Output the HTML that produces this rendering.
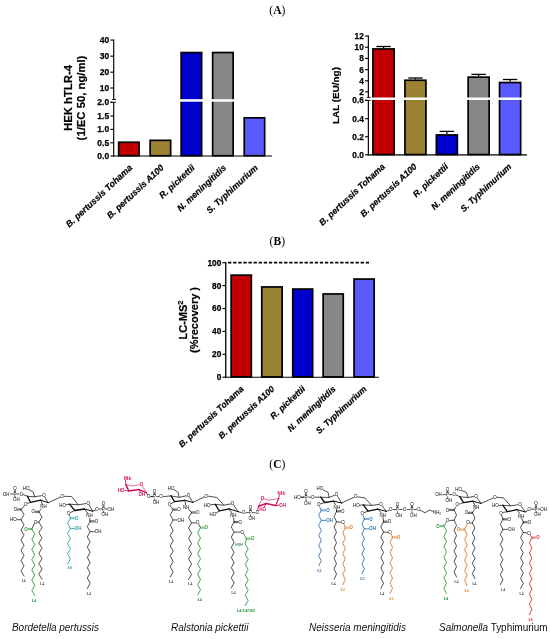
<!DOCTYPE html>
<html lang="en"><head><meta charset="utf-8"><title>Figure</title>
<style>html,body{margin:0;padding:0;background:#fff}body{width:550px;height:639px;overflow:hidden}svg{display:block}</style>
</head><body>
<svg width="550" height="639" viewBox="0 0 550 639">
<rect width="550" height="639" fill="#fff"/>
<text x="277.3" y="13.7" font-family='"Liberation Serif", serif' font-size="11.5" text-anchor="middle" fill="#000">(<tspan font-weight="bold">A</tspan>)</text>
<text x="277.3" y="244.8" font-family='"Liberation Serif", serif' font-size="11.5" text-anchor="middle" fill="#000">(<tspan font-weight="bold">B</tspan>)</text>
<text x="277.3" y="467.5" font-family='"Liberation Serif", serif' font-size="11.5" text-anchor="middle" fill="#000">(<tspan font-weight="bold">C</tspan>)</text>
<g id="chartA1">
<rect x="118.65" y="142.25" width="20.4" height="13.47" fill="#c20004" stroke="#000" stroke-width="1.7"/>
<rect x="150.15" y="140.35" width="20.5" height="15.38" fill="#9a8232" stroke="#000" stroke-width="1.7"/>
<rect x="181.15" y="52.55" width="20.5" height="103.17" fill="#0000cc" stroke="#000" stroke-width="1.7"/>
<rect x="212.65" y="52.55" width="20.5" height="103.17" fill="#878787" stroke="#000" stroke-width="1.7"/>
<rect x="244.25" y="117.85" width="20.4" height="37.88" fill="#5a5aff" stroke="#000" stroke-width="1.7"/>
<rect x="114.7" y="99.2" width="158.3" height="2.5" fill="#fff"/>
<line x1="113.7" y1="39.52" x2="113.7" y2="156.57" stroke="#000" stroke-width="1.15" />
<line x1="113.12" y1="156" x2="272" y2="156" stroke="#000" stroke-width="1.15" />
<line x1="110.4" y1="40.1" x2="113.7" y2="40.1" stroke="#000" stroke-width="1.15" />
<text x="109.2" y="43.16" font-family='"Liberation Sans", sans-serif' font-size="8.5" font-weight="bold" font-style="normal" text-anchor="end" fill="#000" stroke="#000" stroke-width="0.25">40</text>
<line x1="110.4" y1="56.2" x2="113.7" y2="56.2" stroke="#000" stroke-width="1.15" />
<text x="109.2" y="59.26" font-family='"Liberation Sans", sans-serif' font-size="8.5" font-weight="bold" font-style="normal" text-anchor="end" fill="#000" stroke="#000" stroke-width="0.25">30</text>
<line x1="110.4" y1="72.2" x2="113.7" y2="72.2" stroke="#000" stroke-width="1.15" />
<text x="109.2" y="75.26" font-family='"Liberation Sans", sans-serif' font-size="8.5" font-weight="bold" font-style="normal" text-anchor="end" fill="#000" stroke="#000" stroke-width="0.25">20</text>
<line x1="110.4" y1="88" x2="113.7" y2="88" stroke="#000" stroke-width="1.15" />
<text x="109.2" y="91.06" font-family='"Liberation Sans", sans-serif' font-size="8.5" font-weight="bold" font-style="normal" text-anchor="end" fill="#000" stroke="#000" stroke-width="0.25">10</text>
<line x1="110.4" y1="102.25" x2="113.7" y2="102.25" stroke="#000" stroke-width="1.15" />
<text x="109.2" y="105.31" font-family='"Liberation Sans", sans-serif' font-size="8.5" font-weight="bold" font-style="normal" text-anchor="end" fill="#000" stroke="#000" stroke-width="0.25">2.0</text>
<line x1="110.4" y1="116" x2="113.7" y2="116" stroke="#000" stroke-width="1.15" />
<text x="109.2" y="119.06" font-family='"Liberation Sans", sans-serif' font-size="8.5" font-weight="bold" font-style="normal" text-anchor="end" fill="#000" stroke="#000" stroke-width="0.25">1.5</text>
<line x1="110.4" y1="129.4" x2="113.7" y2="129.4" stroke="#000" stroke-width="1.15" />
<text x="109.2" y="132.46" font-family='"Liberation Sans", sans-serif' font-size="8.5" font-weight="bold" font-style="normal" text-anchor="end" fill="#000" stroke="#000" stroke-width="0.25">1.0</text>
<line x1="110.4" y1="142.8" x2="113.7" y2="142.8" stroke="#000" stroke-width="1.15" />
<text x="109.2" y="145.86" font-family='"Liberation Sans", sans-serif' font-size="8.5" font-weight="bold" font-style="normal" text-anchor="end" fill="#000" stroke="#000" stroke-width="0.25">0.5</text>
<line x1="110.4" y1="156" x2="113.7" y2="156" stroke="#000" stroke-width="1.15" />
<text x="109.2" y="159.06" font-family='"Liberation Sans", sans-serif' font-size="8.5" font-weight="bold" font-style="normal" text-anchor="end" fill="#000" stroke="#000" stroke-width="0.25">0.0</text>
<rect x="112.2" y="99.5" width="3" height="2.75" fill="#fff"/>
<line x1="112.1" y1="99.5" x2="116" y2="99.5" stroke="#000" stroke-width="0.9" />
<line x1="110.5" y1="102.25" x2="116" y2="102.25" stroke="#000" stroke-width="0.9" />
<text transform="translate(71.5 98) rotate(-90)" font-family='"Liberation Sans", sans-serif' font-size="11.3" font-weight="bold" text-anchor="middle" fill="#000" stroke="#000" stroke-width="0.2">HEK hTLR-4</text>
<text transform="translate(85.3 98) rotate(-90)" font-family='"Liberation Sans", sans-serif' font-size="11.3" font-weight="bold" text-anchor="middle" fill="#000" stroke="#000" stroke-width="0.2">(1/EC 50, ng/ml)</text>
<text transform="translate(132.85 168.5) rotate(-43)" font-family='"Liberation Sans", sans-serif' font-size="8.9" font-weight="bold" font-style="italic" text-anchor="end" fill="#000" stroke="#000" stroke-width="0.2">B. pertussis Tohama</text>
<text transform="translate(164.4 168.5) rotate(-43)" font-family='"Liberation Sans", sans-serif' font-size="8.9" font-weight="bold" font-style="italic" text-anchor="end" fill="#000" stroke="#000" stroke-width="0.2">B. pertussis A100</text>
<text transform="translate(195.4 168.5) rotate(-43)" font-family='"Liberation Sans", sans-serif' font-size="8.9" font-weight="bold" font-style="italic" text-anchor="end" fill="#000" stroke="#000" stroke-width="0.2">R. pickettii</text>
<text transform="translate(226.9 168.5) rotate(-43)" font-family='"Liberation Sans", sans-serif' font-size="8.9" font-weight="bold" font-style="italic" text-anchor="end" fill="#000" stroke="#000" stroke-width="0.2">N. meningitidis</text>
<text transform="translate(258.45 168.5) rotate(-43)" font-family='"Liberation Sans", sans-serif' font-size="8.9" font-weight="bold" font-style="italic" text-anchor="end" fill="#000" stroke="#000" stroke-width="0.2">S. Typhimurium</text>
</g>
<g id="chartA2">
<line x1="383.55" y1="46.5" x2="383.55" y2="48.1" stroke="#000" stroke-width="1.2" />
<line x1="376.35" y1="46.5" x2="390.75" y2="46.5" stroke="#000" stroke-width="1.3" />
<rect x="372.95" y="48.95" width="21.2" height="105.58" fill="#c20004" stroke="#000" stroke-width="1.7"/>
<line x1="415.45" y1="78" x2="415.45" y2="79.4" stroke="#000" stroke-width="1.2" />
<line x1="408.25" y1="78" x2="422.65" y2="78" stroke="#000" stroke-width="1.3" />
<rect x="404.95" y="80.25" width="21" height="74.28" fill="#9a8232" stroke="#000" stroke-width="1.7"/>
<line x1="446.85" y1="131.4" x2="446.85" y2="134.1" stroke="#000" stroke-width="1.2" />
<line x1="439.65" y1="131.4" x2="454.05" y2="131.4" stroke="#000" stroke-width="1.3" />
<rect x="436.35" y="134.95" width="21" height="19.58" fill="#0000cc" stroke="#000" stroke-width="1.7"/>
<line x1="478.65" y1="74.4" x2="478.65" y2="76.3" stroke="#000" stroke-width="1.2" />
<line x1="471.45" y1="74.4" x2="485.85" y2="74.4" stroke="#000" stroke-width="1.3" />
<rect x="468.15" y="77.15" width="21" height="77.38" fill="#878787" stroke="#000" stroke-width="1.7"/>
<line x1="510.1" y1="79.5" x2="510.1" y2="81.7" stroke="#000" stroke-width="1.2" />
<line x1="502.9" y1="79.5" x2="517.3" y2="79.5" stroke="#000" stroke-width="1.3" />
<rect x="499.55" y="82.55" width="21.1" height="71.98" fill="#5a5aff" stroke="#000" stroke-width="1.7"/>
<rect x="369.35" y="97.5" width="158.65" height="2.45" fill="#fff"/>
<line x1="368.35" y1="35.47" x2="368.35" y2="155.38" stroke="#000" stroke-width="1.15" />
<line x1="367.78" y1="154.8" x2="527" y2="154.8" stroke="#000" stroke-width="1.15" />
<line x1="365.05" y1="36.05" x2="368.35" y2="36.05" stroke="#000" stroke-width="1.15" />
<text x="363.85" y="39.04" font-family='"Liberation Sans", sans-serif' font-size="8.3" font-weight="bold" font-style="normal" text-anchor="end" fill="#000" stroke="#000" stroke-width="0.25">12</text>
<line x1="365.05" y1="47.25" x2="368.35" y2="47.25" stroke="#000" stroke-width="1.15" />
<text x="363.85" y="50.24" font-family='"Liberation Sans", sans-serif' font-size="8.3" font-weight="bold" font-style="normal" text-anchor="end" fill="#000" stroke="#000" stroke-width="0.25">10</text>
<line x1="365.05" y1="58.45" x2="368.35" y2="58.45" stroke="#000" stroke-width="1.15" />
<text x="363.85" y="61.44" font-family='"Liberation Sans", sans-serif' font-size="8.3" font-weight="bold" font-style="normal" text-anchor="end" fill="#000" stroke="#000" stroke-width="0.25">8</text>
<line x1="365.05" y1="69.65" x2="368.35" y2="69.65" stroke="#000" stroke-width="1.15" />
<text x="363.85" y="72.64" font-family='"Liberation Sans", sans-serif' font-size="8.3" font-weight="bold" font-style="normal" text-anchor="end" fill="#000" stroke="#000" stroke-width="0.25">6</text>
<line x1="365.05" y1="80.8" x2="368.35" y2="80.8" stroke="#000" stroke-width="1.15" />
<text x="363.85" y="83.79" font-family='"Liberation Sans", sans-serif' font-size="8.3" font-weight="bold" font-style="normal" text-anchor="end" fill="#000" stroke="#000" stroke-width="0.25">4</text>
<line x1="365.05" y1="91.85" x2="368.35" y2="91.85" stroke="#000" stroke-width="1.15" />
<text x="363.85" y="94.84" font-family='"Liberation Sans", sans-serif' font-size="8.3" font-weight="bold" font-style="normal" text-anchor="end" fill="#000" stroke="#000" stroke-width="0.25">2</text>
<line x1="365.05" y1="100.3" x2="368.35" y2="100.3" stroke="#000" stroke-width="1.15" />
<text x="363.85" y="103.29" font-family='"Liberation Sans", sans-serif' font-size="8.3" font-weight="bold" font-style="normal" text-anchor="end" fill="#000" stroke="#000" stroke-width="0.25">0.6</text>
<line x1="365.05" y1="118.7" x2="368.35" y2="118.7" stroke="#000" stroke-width="1.15" />
<text x="363.85" y="121.69" font-family='"Liberation Sans", sans-serif' font-size="8.3" font-weight="bold" font-style="normal" text-anchor="end" fill="#000" stroke="#000" stroke-width="0.25">0.4</text>
<line x1="365.05" y1="136.8" x2="368.35" y2="136.8" stroke="#000" stroke-width="1.15" />
<text x="363.85" y="139.79" font-family='"Liberation Sans", sans-serif' font-size="8.3" font-weight="bold" font-style="normal" text-anchor="end" fill="#000" stroke="#000" stroke-width="0.25">0.2</text>
<line x1="365.05" y1="154.8" x2="368.35" y2="154.8" stroke="#000" stroke-width="1.15" />
<text x="363.85" y="157.79" font-family='"Liberation Sans", sans-serif' font-size="8.3" font-weight="bold" font-style="normal" text-anchor="end" fill="#000" stroke="#000" stroke-width="0.25">0.0</text>
<rect x="366.85" y="97.4" width="3" height="2.9" fill="#fff"/>
<line x1="366.75" y1="97.4" x2="370.65" y2="97.4" stroke="#000" stroke-width="0.9" />
<line x1="365.15" y1="100.3" x2="370.65" y2="100.3" stroke="#000" stroke-width="0.9" />
<text transform="translate(339.3 95.5) rotate(-90)" font-family='"Liberation Sans", sans-serif' font-size="9.9" font-weight="bold" text-anchor="middle" fill="#000" stroke="#000" stroke-width="0.2">LAL (EU/ng)</text>
<text transform="translate(385.55 167.3) rotate(-43)" font-family='"Liberation Sans", sans-serif' font-size="8.8" font-weight="bold" font-style="italic" text-anchor="end" fill="#000" stroke="#000" stroke-width="0.2">B. pertussis Tohama</text>
<text transform="translate(417.45 167.3) rotate(-43)" font-family='"Liberation Sans", sans-serif' font-size="8.8" font-weight="bold" font-style="italic" text-anchor="end" fill="#000" stroke="#000" stroke-width="0.2">B. pertussis A100</text>
<text transform="translate(448.85 167.3) rotate(-43)" font-family='"Liberation Sans", sans-serif' font-size="8.8" font-weight="bold" font-style="italic" text-anchor="end" fill="#000" stroke="#000" stroke-width="0.2">R. pickettii</text>
<text transform="translate(480.65 167.3) rotate(-43)" font-family='"Liberation Sans", sans-serif' font-size="8.8" font-weight="bold" font-style="italic" text-anchor="end" fill="#000" stroke="#000" stroke-width="0.2">N. meningitidis</text>
<text transform="translate(512.1 167.3) rotate(-43)" font-family='"Liberation Sans", sans-serif' font-size="8.8" font-weight="bold" font-style="italic" text-anchor="end" fill="#000" stroke="#000" stroke-width="0.2">S. Typhimurium</text>
</g>
<g id="chartB">
<rect x="231.15" y="275.15" width="20.2" height="101.77" fill="#c20004" stroke="#000" stroke-width="1.7"/>
<rect x="261.75" y="286.95" width="20.4" height="89.97" fill="#9a8232" stroke="#000" stroke-width="1.7"/>
<rect x="292.75" y="289.05" width="19.9" height="87.87" fill="#0000cc" stroke="#000" stroke-width="1.7"/>
<rect x="323.15" y="293.95" width="20.1" height="82.97" fill="#878787" stroke="#000" stroke-width="1.7"/>
<rect x="354.05" y="279.05" width="20.1" height="97.87" fill="#5a5aff" stroke="#000" stroke-width="1.7"/>
<line x1="225.75" y1="262.12" x2="225.75" y2="377.77" stroke="#000" stroke-width="1.3" />
<line x1="225.18" y1="377.2" x2="379" y2="377.2" stroke="#000" stroke-width="1.15" />
<line x1="222.45" y1="262.7" x2="225.75" y2="262.7" stroke="#000" stroke-width="1.15" />
<text x="221.25" y="265.69" font-family='"Liberation Sans", sans-serif' font-size="8.3" font-weight="bold" font-style="normal" text-anchor="end" fill="#000" stroke="#000" stroke-width="0.25">100</text>
<line x1="222.45" y1="285.6" x2="225.75" y2="285.6" stroke="#000" stroke-width="1.15" />
<text x="221.25" y="288.59" font-family='"Liberation Sans", sans-serif' font-size="8.3" font-weight="bold" font-style="normal" text-anchor="end" fill="#000" stroke="#000" stroke-width="0.25">80</text>
<line x1="222.45" y1="308.5" x2="225.75" y2="308.5" stroke="#000" stroke-width="1.15" />
<text x="221.25" y="311.49" font-family='"Liberation Sans", sans-serif' font-size="8.3" font-weight="bold" font-style="normal" text-anchor="end" fill="#000" stroke="#000" stroke-width="0.25">60</text>
<line x1="222.45" y1="331.4" x2="225.75" y2="331.4" stroke="#000" stroke-width="1.15" />
<text x="221.25" y="334.39" font-family='"Liberation Sans", sans-serif' font-size="8.3" font-weight="bold" font-style="normal" text-anchor="end" fill="#000" stroke="#000" stroke-width="0.25">40</text>
<line x1="222.45" y1="354.3" x2="225.75" y2="354.3" stroke="#000" stroke-width="1.15" />
<text x="221.25" y="357.29" font-family='"Liberation Sans", sans-serif' font-size="8.3" font-weight="bold" font-style="normal" text-anchor="end" fill="#000" stroke="#000" stroke-width="0.25">20</text>
<line x1="222.45" y1="377.2" x2="225.75" y2="377.2" stroke="#000" stroke-width="1.15" />
<text x="221.25" y="380.19" font-family='"Liberation Sans", sans-serif' font-size="8.3" font-weight="bold" font-style="normal" text-anchor="end" fill="#000" stroke="#000" stroke-width="0.25">0</text>
<line x1="228.05" y1="262.7" x2="371" y2="262.7" stroke="#000" stroke-width="1.7" stroke-dasharray="3.3 1.8"/>
<text transform="translate(186.5 320) rotate(-90)" font-family='"Liberation Sans", sans-serif' font-size="11" font-weight="bold" text-anchor="middle" fill="#000" stroke="#000" stroke-width="0.2">LC-MS<tspan font-size="7.48" dy="-3.6">2</tspan></text>
<text transform="translate(198 320) rotate(-90)" font-family='"Liberation Sans", sans-serif' font-size="11" font-weight="bold" text-anchor="middle" fill="#000" stroke="#000" stroke-width="0.2">(%recovery )</text>
<text transform="translate(244.25 389.7) rotate(-43)" font-family='"Liberation Sans", sans-serif' font-size="8.7" font-weight="bold" font-style="italic" text-anchor="end" fill="#000" stroke="#000" stroke-width="0.2">B. pertussis Tohama</text>
<text transform="translate(274.95 389.7) rotate(-43)" font-family='"Liberation Sans", sans-serif' font-size="8.7" font-weight="bold" font-style="italic" text-anchor="end" fill="#000" stroke="#000" stroke-width="0.2">B. pertussis A100</text>
<text transform="translate(305.7 389.7) rotate(-43)" font-family='"Liberation Sans", sans-serif' font-size="8.7" font-weight="bold" font-style="italic" text-anchor="end" fill="#000" stroke="#000" stroke-width="0.2">R. pickettii</text>
<text transform="translate(336.2 389.7) rotate(-43)" font-family='"Liberation Sans", sans-serif' font-size="8.7" font-weight="bold" font-style="italic" text-anchor="end" fill="#000" stroke="#000" stroke-width="0.2">N. meningitidis</text>
<text transform="translate(367.1 389.7) rotate(-43)" font-family='"Liberation Sans", sans-serif' font-size="8.7" font-weight="bold" font-style="italic" text-anchor="end" fill="#000" stroke="#000" stroke-width="0.2">S. Typhimurium</text>
</g>
<g id="structures">
<polyline points="27.4,496.3 34.6,496.8 43.9,495.3 48.1,502.7" fill="none" stroke="#0a0a0a" stroke-width="0.72" stroke-linejoin="round" stroke-linecap="round"/>
<polyline points="27.4,496.3 30.5,502.3 40.7,500.1" fill="none" stroke="#0a0a0a" stroke-width="1.3" stroke-linejoin="round" stroke-linecap="round"/>
<polyline points="40.7,500.1 48.1,502.7" fill="none" stroke="#0a0a0a" stroke-width="1" stroke-linejoin="round" stroke-linecap="round"/>
<polyline points="34.6,496.8 33.3,492.1 28.9,489.7" fill="none" stroke="#0a0a0a" stroke-width="0.72" stroke-linejoin="round" stroke-linecap="round"/>
<polyline points="10.6,494 19.2,494" fill="none" stroke="#0a0a0a" stroke-width="0.72" stroke-linejoin="round" stroke-linecap="round"/>
<polyline points="14.45,492.8 14.45,490" fill="none" stroke="#0a0a0a" stroke-width="0.65" stroke-linejoin="round" stroke-linecap="round"/>
<polyline points="15.35,492.8 15.35,490" fill="none" stroke="#0a0a0a" stroke-width="0.65" stroke-linejoin="round" stroke-linecap="round"/>
<polyline points="14.9,495.2 15.2,497.9" fill="none" stroke="#0a0a0a" stroke-width="0.72" stroke-linejoin="round" stroke-linecap="round"/>
<polyline points="23,494.4 27.4,496.3" fill="none" stroke="#0a0a0a" stroke-width="0.72" stroke-linejoin="round" stroke-linecap="round"/>
<polyline points="30.5,502.3 27.2,503.6" fill="none" stroke="#0a0a0a" stroke-width="0.72" stroke-linejoin="round" stroke-linecap="round"/>
<polyline points="24.6,505.5 21,509.5" fill="none" stroke="#0a0a0a" stroke-width="0.72" stroke-linejoin="round" stroke-linecap="round"/>
<polyline points="21,508.95 17.3,508.95" fill="none" stroke="#0a0a0a" stroke-width="0.65" stroke-linejoin="round" stroke-linecap="round"/>
<polyline points="21,510.05 17.3,510.05" fill="none" stroke="#0a0a0a" stroke-width="0.65" stroke-linejoin="round" stroke-linecap="round"/>
<polyline points="21,509.5 24,514.62 21,519.73 24,524.85 21,529.96 24,535.08 21,540.19 24,545.31 21,550.42 24,555.54 21,560.65 24,565.77 21,570.88 24,576" fill="none" stroke="#0a0a0a" stroke-width="0.72" stroke-linejoin="round" stroke-linecap="round"/>
<polyline points="21,519.73 16.6,519.73" fill="none" stroke="#0a0a0a" stroke-width="0.72" stroke-linejoin="round" stroke-linecap="round"/>
<polyline points="40.7,500.1 42.6,504.8" fill="none" stroke="#0a0a0a" stroke-width="0.72" stroke-linejoin="round" stroke-linecap="round"/>
<polyline points="42,508.3 38.8,511.8" fill="none" stroke="#0a0a0a" stroke-width="0.72" stroke-linejoin="round" stroke-linecap="round"/>
<polyline points="38.8,511.25 35.1,511.25" fill="none" stroke="#0a0a0a" stroke-width="0.65" stroke-linejoin="round" stroke-linecap="round"/>
<polyline points="38.8,512.35 35.1,512.35" fill="none" stroke="#0a0a0a" stroke-width="0.65" stroke-linejoin="round" stroke-linecap="round"/>
<polyline points="38.8,511.8 42.1,516.99 38.8,522.18 42.1,527.38 38.8,532.57 42.1,537.76 38.8,542.95 42.1,548.15 38.8,553.34 42.1,558.53 38.8,563.72 42.1,568.92 38.8,574.11 42.1,579.3" fill="none" stroke="#0a0a0a" stroke-width="0.72" stroke-linejoin="round" stroke-linecap="round"/>
<polyline points="38.8,522.18 37,522.2" fill="none" stroke="#0a0a0a" stroke-width="0.72" stroke-linejoin="round" stroke-linecap="round"/>
<polyline points="34.5,523.5 31.8,529" fill="none" stroke="#0a0a0a" stroke-width="0.72" stroke-linejoin="round" stroke-linecap="round"/>
<polyline points="31.8,528.45 27.9,528.45" fill="none" stroke="#2e9a3e" stroke-width="0.65" stroke-linejoin="round" stroke-linecap="round"/>
<polyline points="31.8,529.55 27.9,529.55" fill="none" stroke="#2e9a3e" stroke-width="0.65" stroke-linejoin="round" stroke-linecap="round"/>
<polyline points="31.8,529 34.8,534.12 31.8,539.25 34.8,544.37 31.8,549.49 34.8,554.62 31.8,559.74 34.8,564.86 31.8,569.98 34.8,575.11 31.8,580.23 34.8,585.35 31.8,590.48 34.8,595.6" fill="none" stroke="#2e9a3e" stroke-width="0.9" stroke-linejoin="round" stroke-linecap="round"/>
<polyline points="48.1,502.7 60.8,497" fill="none" stroke="#0a0a0a" stroke-width="0.72" stroke-linejoin="round" stroke-linecap="round"/>
<polyline points="63.8,496.3 71.6,496.5 78.3,504.8" fill="none" stroke="#0a0a0a" stroke-width="0.72" stroke-linejoin="round" stroke-linecap="round"/>
<polyline points="69.5,504.2 78.3,504.8 88.2,503.2 92.6,511.2" fill="none" stroke="#0a0a0a" stroke-width="0.72" stroke-linejoin="round" stroke-linecap="round"/>
<polyline points="69.5,504.2 74.8,510.5 84.4,509" fill="none" stroke="#0a0a0a" stroke-width="1.3" stroke-linejoin="round" stroke-linecap="round"/>
<polyline points="84.4,509 92.6,511.2" fill="none" stroke="#0a0a0a" stroke-width="1" stroke-linejoin="round" stroke-linecap="round"/>
<polyline points="69.5,504.2 65.5,504.8" fill="none" stroke="#0a0a0a" stroke-width="0.72" stroke-linejoin="round" stroke-linecap="round"/>
<polyline points="92.6,511.2 95.8,509.8" fill="none" stroke="#0a0a0a" stroke-width="0.72" stroke-linejoin="round" stroke-linecap="round"/>
<polyline points="99.2,509 107.8,509" fill="none" stroke="#0a0a0a" stroke-width="0.72" stroke-linejoin="round" stroke-linecap="round"/>
<polyline points="103.05,507.8 103.05,505" fill="none" stroke="#0a0a0a" stroke-width="0.65" stroke-linejoin="round" stroke-linecap="round"/>
<polyline points="103.95,507.8 103.95,505" fill="none" stroke="#0a0a0a" stroke-width="0.65" stroke-linejoin="round" stroke-linecap="round"/>
<polyline points="103.5,510.2 103.8,512.9" fill="none" stroke="#0a0a0a" stroke-width="0.72" stroke-linejoin="round" stroke-linecap="round"/>
<polyline points="74.8,510.5 70.4,512.6" fill="none" stroke="#0a0a0a" stroke-width="0.72" stroke-linejoin="round" stroke-linecap="round"/>
<polyline points="69.1,514.9 70.4,518.2" fill="none" stroke="#2a9fa6" stroke-width="0.9" stroke-linejoin="round" stroke-linecap="round"/>
<polyline points="70.4,517.65 74.8,517.65" fill="none" stroke="#2a9fa6" stroke-width="0.65" stroke-linejoin="round" stroke-linecap="round"/>
<polyline points="70.4,518.75 74.8,518.75" fill="none" stroke="#2a9fa6" stroke-width="0.65" stroke-linejoin="round" stroke-linecap="round"/>
<polyline points="70.4,518.2 67.6,523.29 70.4,528.38 67.6,533.47 70.4,538.56 67.6,543.64 70.4,548.73 67.6,553.82 70.4,558.91 67.6,564" fill="none" stroke="#2a9fa6" stroke-width="0.9" stroke-linejoin="round" stroke-linecap="round"/>
<polyline points="70.4,528.38 75,528.38" fill="none" stroke="#2a9fa6" stroke-width="0.9" stroke-linejoin="round" stroke-linecap="round"/>
<polyline points="84.4,509 88,513.6" fill="none" stroke="#0a0a0a" stroke-width="0.72" stroke-linejoin="round" stroke-linecap="round"/>
<polyline points="89.6,517.3 90.1,521.4" fill="none" stroke="#0a0a0a" stroke-width="0.72" stroke-linejoin="round" stroke-linecap="round"/>
<polyline points="90.1,520.85 94.5,520.85" fill="none" stroke="#0a0a0a" stroke-width="0.65" stroke-linejoin="round" stroke-linecap="round"/>
<polyline points="90.1,521.95 94.5,521.95" fill="none" stroke="#0a0a0a" stroke-width="0.65" stroke-linejoin="round" stroke-linecap="round"/>
<polyline points="90.1,521.4 87.3,526.55 90.1,531.71 87.3,536.86 90.1,542.02 87.3,547.17 90.1,552.32 87.3,557.48 90.1,562.63 87.3,567.78 90.1,572.94 87.3,578.09 90.1,583.25 87.3,588.4" fill="none" stroke="#0a0a0a" stroke-width="0.72" stroke-linejoin="round" stroke-linecap="round"/>
<polyline points="90.1,531.71 94.9,531.71" fill="none" stroke="#0a0a0a" stroke-width="0.72" stroke-linejoin="round" stroke-linecap="round"/>
<polyline points="125.9,484.5 132.5,486 141.2,484.3 146.3,492.5" fill="none" stroke="#d0105c" stroke-width="0.6" stroke-linejoin="round" stroke-linecap="round"/>
<polyline points="125.9,484.5 128.8,491.1 139,489.6" fill="none" stroke="#d0105c" stroke-width="1.55" stroke-linejoin="round" stroke-linecap="round"/>
<polyline points="139,489.6 146.3,492.5" fill="none" stroke="#d0105c" stroke-width="1.2" stroke-linejoin="round" stroke-linecap="round"/>
<polyline points="125.9,484.5 125.5,480.2" fill="none" stroke="#d0105c" stroke-width="0.9" stroke-linejoin="round" stroke-linecap="round"/>
<polyline points="128.8,491.1 124.6,490.4" fill="none" stroke="#d0105c" stroke-width="0.8" stroke-linejoin="round" stroke-linecap="round"/>
<polyline points="139,489.6 140.6,492.6" fill="none" stroke="#d0105c" stroke-width="0.9" stroke-linejoin="round" stroke-linecap="round"/>
<polyline points="146.3,492.5 147.7,495.2" fill="none" stroke="#0a0a0a" stroke-width="0.72" stroke-linejoin="round" stroke-linecap="round"/>
<polyline points="150.4,496.6 158.8,496.6" fill="none" stroke="#0a0a0a" stroke-width="0.72" stroke-linejoin="round" stroke-linecap="round"/>
<polyline points="154.15,495.4 154.15,492.6" fill="none" stroke="#0a0a0a" stroke-width="0.65" stroke-linejoin="round" stroke-linecap="round"/>
<polyline points="155.05,495.4 155.05,492.6" fill="none" stroke="#0a0a0a" stroke-width="0.65" stroke-linejoin="round" stroke-linecap="round"/>
<polyline points="154.6,497.8 154.9,500.5" fill="none" stroke="#0a0a0a" stroke-width="0.72" stroke-linejoin="round" stroke-linecap="round"/>
<polyline points="150.2,496.6 153,496.6" fill="none" stroke="#0a0a0a" stroke-width="0.72" stroke-linejoin="round" stroke-linecap="round"/>
<polyline points="163.4,496.6 171,495.9" fill="none" stroke="#0a0a0a" stroke-width="0.72" stroke-linejoin="round" stroke-linecap="round"/>
<polyline points="171,495.9 179,497.3 188.5,495.4 193,502.4" fill="none" stroke="#0a0a0a" stroke-width="0.72" stroke-linejoin="round" stroke-linecap="round"/>
<polyline points="171,495.9 174.6,501.7 184.8,500.3" fill="none" stroke="#0a0a0a" stroke-width="1.3" stroke-linejoin="round" stroke-linecap="round"/>
<polyline points="184.8,500.3 193,502.4" fill="none" stroke="#0a0a0a" stroke-width="1" stroke-linejoin="round" stroke-linecap="round"/>
<polyline points="179,497.3 178.3,492.6 174.2,489.8" fill="none" stroke="#0a0a0a" stroke-width="0.72" stroke-linejoin="round" stroke-linecap="round"/>
<polyline points="174.6,501.7 171,503.8" fill="none" stroke="#0a0a0a" stroke-width="0.72" stroke-linejoin="round" stroke-linecap="round"/>
<polyline points="170.3,506 173.2,509.6" fill="none" stroke="#0a0a0a" stroke-width="0.72" stroke-linejoin="round" stroke-linecap="round"/>
<polyline points="173.2,509.05 177.1,509.05" fill="none" stroke="#0a0a0a" stroke-width="0.65" stroke-linejoin="round" stroke-linecap="round"/>
<polyline points="173.2,510.15 177.1,510.15" fill="none" stroke="#0a0a0a" stroke-width="0.65" stroke-linejoin="round" stroke-linecap="round"/>
<polyline points="173.2,509.6 170.2,514.78 173.2,519.97 170.2,525.15 173.2,530.34 170.2,535.52 173.2,540.71 170.2,545.89 173.2,551.08 170.2,556.26 173.2,561.45 170.2,566.63 173.2,571.82 170.2,577" fill="none" stroke="#0a0a0a" stroke-width="0.72" stroke-linejoin="round" stroke-linecap="round"/>
<polyline points="173.2,519.97 177.6,519.97" fill="none" stroke="#0a0a0a" stroke-width="0.72" stroke-linejoin="round" stroke-linecap="round"/>
<polyline points="184.8,500.3 185.8,505.2" fill="none" stroke="#0a0a0a" stroke-width="0.72" stroke-linejoin="round" stroke-linecap="round"/>
<polyline points="188,508.6 191.5,512.5" fill="none" stroke="#0a0a0a" stroke-width="0.72" stroke-linejoin="round" stroke-linecap="round"/>
<polyline points="191.5,511.95 195.8,511.95" fill="none" stroke="#0a0a0a" stroke-width="0.65" stroke-linejoin="round" stroke-linecap="round"/>
<polyline points="191.5,513.05 195.8,513.05" fill="none" stroke="#0a0a0a" stroke-width="0.65" stroke-linejoin="round" stroke-linecap="round"/>
<polyline points="191.5,512.5 188.6,517.66 191.5,522.82 188.6,527.98 191.5,533.15 188.6,538.31 191.5,543.47 188.6,548.63 191.5,553.79 188.6,558.95 191.5,564.12 188.6,569.28 191.5,574.44 188.6,579.6" fill="none" stroke="#0a0a0a" stroke-width="0.72" stroke-linejoin="round" stroke-linecap="round"/>
<polyline points="191.5,522.82 196.2,522.9" fill="none" stroke="#0a0a0a" stroke-width="0.72" stroke-linejoin="round" stroke-linecap="round"/>
<polyline points="198.6,524.1 200.5,527.6" fill="none" stroke="#0a0a0a" stroke-width="0.72" stroke-linejoin="round" stroke-linecap="round"/>
<polyline points="200.5,527.05 204.4,527.05" fill="none" stroke="#2e9a3e" stroke-width="0.65" stroke-linejoin="round" stroke-linecap="round"/>
<polyline points="200.5,528.15 204.4,528.15" fill="none" stroke="#2e9a3e" stroke-width="0.65" stroke-linejoin="round" stroke-linecap="round"/>
<polyline points="200.5,527.6 197.7,532.78 200.5,537.97 197.7,543.15 200.5,548.34 197.7,553.52 200.5,558.71 197.7,563.89 200.5,569.08 197.7,574.26 200.5,579.45 197.7,584.63 200.5,589.82 197.7,595" fill="none" stroke="#2e9a3e" stroke-width="0.9" stroke-linejoin="round" stroke-linecap="round"/>
<polyline points="193,502.4 204.8,496.6" fill="none" stroke="#0a0a0a" stroke-width="0.72" stroke-linejoin="round" stroke-linecap="round"/>
<polyline points="207.8,496.1 216.9,497.5 223.9,505.2" fill="none" stroke="#0a0a0a" stroke-width="0.72" stroke-linejoin="round" stroke-linecap="round"/>
<polyline points="215.3,504.4 223.9,505.2 232.5,503.5 238.2,511.7" fill="none" stroke="#0a0a0a" stroke-width="0.72" stroke-linejoin="round" stroke-linecap="round"/>
<polyline points="215.3,504.4 219.4,510.9 229.2,508.9" fill="none" stroke="#0a0a0a" stroke-width="1.3" stroke-linejoin="round" stroke-linecap="round"/>
<polyline points="229.2,508.9 238.2,511.7" fill="none" stroke="#0a0a0a" stroke-width="1" stroke-linejoin="round" stroke-linecap="round"/>
<polyline points="215.3,504.4 210.2,504.8" fill="none" stroke="#0a0a0a" stroke-width="0.72" stroke-linejoin="round" stroke-linecap="round"/>
<polyline points="219.4,510.9 215.8,513.4" fill="none" stroke="#0a0a0a" stroke-width="0.72" stroke-linejoin="round" stroke-linecap="round"/>
<polyline points="238.2,511.7 241.6,512.6" fill="none" stroke="#0a0a0a" stroke-width="0.72" stroke-linejoin="round" stroke-linecap="round"/>
<polyline points="245.7,512.7 255.3,512.7" fill="none" stroke="#0a0a0a" stroke-width="0.72" stroke-linejoin="round" stroke-linecap="round"/>
<polyline points="250.05,511.5 250.05,508.7" fill="none" stroke="#0a0a0a" stroke-width="0.65" stroke-linejoin="round" stroke-linecap="round"/>
<polyline points="250.95,511.5 250.95,508.7" fill="none" stroke="#0a0a0a" stroke-width="0.65" stroke-linejoin="round" stroke-linecap="round"/>
<polyline points="250.5,513.9 250.8,516.6" fill="none" stroke="#0a0a0a" stroke-width="0.72" stroke-linejoin="round" stroke-linecap="round"/>
<polyline points="229.2,508.9 232.2,513.4" fill="none" stroke="#0a0a0a" stroke-width="0.72" stroke-linejoin="round" stroke-linecap="round"/>
<polyline points="233.5,517.3 234.1,522" fill="none" stroke="#0a0a0a" stroke-width="0.72" stroke-linejoin="round" stroke-linecap="round"/>
<polyline points="234.1,521.45 238.4,521.45" fill="none" stroke="#0a0a0a" stroke-width="0.65" stroke-linejoin="round" stroke-linecap="round"/>
<polyline points="234.1,522.55 238.4,522.55" fill="none" stroke="#0a0a0a" stroke-width="0.65" stroke-linejoin="round" stroke-linecap="round"/>
<polyline points="234.1,522 231.3,527.08 234.1,532.15 231.3,537.23 234.1,542.31 231.3,547.38 234.1,552.46 231.3,557.54 234.1,562.62 231.3,567.69 234.1,572.77 231.3,577.85 234.1,582.92 231.3,588" fill="none" stroke="#0a0a0a" stroke-width="0.72" stroke-linejoin="round" stroke-linecap="round"/>
<polyline points="234.1,532.15 240.6,532" fill="none" stroke="#0a0a0a" stroke-width="0.72" stroke-linejoin="round" stroke-linecap="round"/>
<polyline points="243.3,533.2 246.4,538.7" fill="none" stroke="#2e9a3e" stroke-width="0.9" stroke-linejoin="round" stroke-linecap="round"/>
<polyline points="246.4,538.15 250.9,538.15" fill="none" stroke="#2e9a3e" stroke-width="0.65" stroke-linejoin="round" stroke-linecap="round"/>
<polyline points="246.4,539.25 250.9,539.25" fill="none" stroke="#2e9a3e" stroke-width="0.65" stroke-linejoin="round" stroke-linecap="round"/>
<polyline points="246.4,538.7 245.2,543.85 248.2,548.99 245.2,554.14 248.2,559.28 245.2,564.43 248.2,569.58 245.2,574.72 248.2,579.87 245.2,585.02 248.2,590.16 245.2,595.31 248.2,600.45 245.2,605.6" fill="none" stroke="#2e9a3e" stroke-width="0.9" stroke-linejoin="round" stroke-linecap="round"/>
<polyline points="257.4,511.3 258.5,506.4" fill="none" stroke="#d0105c" stroke-width="0.9" stroke-linejoin="round" stroke-linecap="round"/>
<polyline points="258.5,506.2 262,499.2" fill="none" stroke="#d0105c" stroke-width="0.6" stroke-linejoin="round" stroke-linecap="round"/>
<polyline points="263.6,498.5 268.9,500.3 278.7,498.5" fill="none" stroke="#d0105c" stroke-width="0.6" stroke-linejoin="round" stroke-linecap="round"/>
<polyline points="258.5,506.2 266.2,503.5 275.5,505.6" fill="none" stroke="#d0105c" stroke-width="1.55" stroke-linejoin="round" stroke-linecap="round"/>
<polyline points="275.5,505.6 278.7,498.5" fill="none" stroke="#d0105c" stroke-width="1.1" stroke-linejoin="round" stroke-linecap="round"/>
<polyline points="278.7,498.5 279.3,494.9" fill="none" stroke="#d0105c" stroke-width="0.9" stroke-linejoin="round" stroke-linecap="round"/>
<polyline points="275.5,505.6 279.2,505.2" fill="none" stroke="#d0105c" stroke-width="0.9" stroke-linejoin="round" stroke-linecap="round"/>
<polyline points="266.2,503.5 264.3,506.7" fill="none" stroke="#d0105c" stroke-width="0.9" stroke-linejoin="round" stroke-linecap="round"/>
<polyline points="301.4,497.2 310.6,497.2" fill="none" stroke="#0a0a0a" stroke-width="0.72" stroke-linejoin="round" stroke-linecap="round"/>
<polyline points="305.55,496 305.55,493.2" fill="none" stroke="#0a0a0a" stroke-width="0.65" stroke-linejoin="round" stroke-linecap="round"/>
<polyline points="306.45,496 306.45,493.2" fill="none" stroke="#0a0a0a" stroke-width="0.65" stroke-linejoin="round" stroke-linecap="round"/>
<polyline points="306,498.4 306.3,501.1" fill="none" stroke="#0a0a0a" stroke-width="0.72" stroke-linejoin="round" stroke-linecap="round"/>
<polyline points="300.3,497.2 304.3,497.2" fill="none" stroke="#0a0a0a" stroke-width="0.72" stroke-linejoin="round" stroke-linecap="round"/>
<polyline points="314.6,497.2 320.8,497.2" fill="none" stroke="#0a0a0a" stroke-width="0.72" stroke-linejoin="round" stroke-linecap="round"/>
<polyline points="320.8,497.2 329,497.5 336.5,494.5 341.6,503" fill="none" stroke="#0a0a0a" stroke-width="0.72" stroke-linejoin="round" stroke-linecap="round"/>
<polyline points="320.8,497.2 324.6,502.5 333.6,501.1" fill="none" stroke="#0a0a0a" stroke-width="1.3" stroke-linejoin="round" stroke-linecap="round"/>
<polyline points="333.6,501.1 341.6,503" fill="none" stroke="#0a0a0a" stroke-width="1" stroke-linejoin="round" stroke-linecap="round"/>
<polyline points="329,497.5 328.1,492.4 323.2,489.8" fill="none" stroke="#0a0a0a" stroke-width="0.72" stroke-linejoin="round" stroke-linecap="round"/>
<polyline points="324.6,502.5 320.3,504" fill="none" stroke="#0a0a0a" stroke-width="0.72" stroke-linejoin="round" stroke-linecap="round"/>
<polyline points="319.3,506.2 321.3,510.3" fill="none" stroke="#2f74b5" stroke-width="0.9" stroke-linejoin="round" stroke-linecap="round"/>
<polyline points="321.3,509.75 326,509.75" fill="none" stroke="#2f74b5" stroke-width="0.65" stroke-linejoin="round" stroke-linecap="round"/>
<polyline points="321.3,510.85 326,510.85" fill="none" stroke="#2f74b5" stroke-width="0.65" stroke-linejoin="round" stroke-linecap="round"/>
<polyline points="321.3,510.3 318.7,515.34 321.3,520.37 318.7,525.41 321.3,530.45 318.7,535.48 321.3,540.52 318.7,545.55 321.3,550.59 318.7,555.63 321.3,560.66 318.7,565.7" fill="none" stroke="#2f74b5" stroke-width="0.9" stroke-linejoin="round" stroke-linecap="round"/>
<polyline points="321.3,520.37 326.5,520.37" fill="none" stroke="#2f74b5" stroke-width="0.9" stroke-linejoin="round" stroke-linecap="round"/>
<polyline points="333.6,501.1 335.6,505" fill="none" stroke="#0a0a0a" stroke-width="0.72" stroke-linejoin="round" stroke-linecap="round"/>
<polyline points="336.6,508.6 336.5,511.3" fill="none" stroke="#0a0a0a" stroke-width="0.72" stroke-linejoin="round" stroke-linecap="round"/>
<polyline points="336.5,510.75 340.8,510.75" fill="none" stroke="#0a0a0a" stroke-width="0.65" stroke-linejoin="round" stroke-linecap="round"/>
<polyline points="336.5,511.85 340.8,511.85" fill="none" stroke="#0a0a0a" stroke-width="0.65" stroke-linejoin="round" stroke-linecap="round"/>
<polyline points="336.5,511.3 334.1,516.53 336.5,521.76 334.1,526.99 336.5,532.22 334.1,537.45 336.5,542.68 334.1,547.92 336.5,553.15 334.1,558.38 336.5,563.61 334.1,568.84 336.5,574.07 334.1,579.3" fill="none" stroke="#0a0a0a" stroke-width="0.72" stroke-linejoin="round" stroke-linecap="round"/>
<polyline points="336.5,521.76 341.6,522.4" fill="none" stroke="#0a0a0a" stroke-width="0.72" stroke-linejoin="round" stroke-linecap="round"/>
<polyline points="343.8,523.6 345.3,527.7" fill="none" stroke="#de7c28" stroke-width="0.9" stroke-linejoin="round" stroke-linecap="round"/>
<polyline points="345.3,527.15 349.4,527.15" fill="none" stroke="#de7c28" stroke-width="0.65" stroke-linejoin="round" stroke-linecap="round"/>
<polyline points="345.3,528.25 349.4,528.25" fill="none" stroke="#de7c28" stroke-width="0.65" stroke-linejoin="round" stroke-linecap="round"/>
<polyline points="345.3,527.7 342.8,532.88 345.3,538.06 342.8,543.25 345.3,548.43 342.8,553.61 345.3,558.79 342.8,563.97 345.3,569.15 342.8,574.34 345.3,579.52 342.8,584.7" fill="none" stroke="#de7c28" stroke-width="0.9" stroke-linejoin="round" stroke-linecap="round"/>
<polyline points="341.6,503 354.2,497.2" fill="none" stroke="#0a0a0a" stroke-width="0.72" stroke-linejoin="round" stroke-linecap="round"/>
<polyline points="357.2,496.8 364.8,497.9 371.6,505.4" fill="none" stroke="#0a0a0a" stroke-width="0.72" stroke-linejoin="round" stroke-linecap="round"/>
<polyline points="363.4,504.9 371.6,505.4 381.1,504.2 386.3,511.4" fill="none" stroke="#0a0a0a" stroke-width="0.72" stroke-linejoin="round" stroke-linecap="round"/>
<polyline points="363.4,504.9 368,511.1 377.8,509.1" fill="none" stroke="#0a0a0a" stroke-width="1.3" stroke-linejoin="round" stroke-linecap="round"/>
<polyline points="377.8,509.1 386.3,511.4" fill="none" stroke="#0a0a0a" stroke-width="1" stroke-linejoin="round" stroke-linecap="round"/>
<polyline points="363.4,504.9 359.4,505.3" fill="none" stroke="#0a0a0a" stroke-width="0.72" stroke-linejoin="round" stroke-linecap="round"/>
<polyline points="386.3,511.4 389.4,510.1" fill="none" stroke="#0a0a0a" stroke-width="0.72" stroke-linejoin="round" stroke-linecap="round"/>
<polyline points="392.9,509.5 402.1,509.5" fill="none" stroke="#0a0a0a" stroke-width="0.72" stroke-linejoin="round" stroke-linecap="round"/>
<polyline points="397.05,508.3 397.05,505.5" fill="none" stroke="#0a0a0a" stroke-width="0.65" stroke-linejoin="round" stroke-linecap="round"/>
<polyline points="397.95,508.3 397.95,505.5" fill="none" stroke="#0a0a0a" stroke-width="0.65" stroke-linejoin="round" stroke-linecap="round"/>
<polyline points="397.5,510.7 397.8,513.4" fill="none" stroke="#0a0a0a" stroke-width="0.72" stroke-linejoin="round" stroke-linecap="round"/>
<polyline points="407.3,509.5 416.5,509.5" fill="none" stroke="#0a0a0a" stroke-width="0.72" stroke-linejoin="round" stroke-linecap="round"/>
<polyline points="411.45,508.3 411.45,505.5" fill="none" stroke="#0a0a0a" stroke-width="0.65" stroke-linejoin="round" stroke-linecap="round"/>
<polyline points="412.35,508.3 412.35,505.5" fill="none" stroke="#0a0a0a" stroke-width="0.65" stroke-linejoin="round" stroke-linecap="round"/>
<polyline points="411.9,510.7 412.2,513.4" fill="none" stroke="#0a0a0a" stroke-width="0.72" stroke-linejoin="round" stroke-linecap="round"/>
<polyline points="420.2,510.2 425,512.7 429.9,509.8 433.4,512.2" fill="none" stroke="#0a0a0a" stroke-width="0.72" stroke-linejoin="round" stroke-linecap="round"/>
<polyline points="368,511.1 363.8,512.8" fill="none" stroke="#0a0a0a" stroke-width="0.72" stroke-linejoin="round" stroke-linecap="round"/>
<polyline points="362.8,515 364.4,518.9" fill="none" stroke="#2f74b5" stroke-width="0.9" stroke-linejoin="round" stroke-linecap="round"/>
<polyline points="364.4,518.35 369,518.35" fill="none" stroke="#2f74b5" stroke-width="0.65" stroke-linejoin="round" stroke-linecap="round"/>
<polyline points="364.4,519.45 369,519.45" fill="none" stroke="#2f74b5" stroke-width="0.65" stroke-linejoin="round" stroke-linecap="round"/>
<polyline points="364.4,518.9 361.9,523.89 364.4,528.88 361.9,533.87 364.4,538.86 361.9,543.85 364.4,548.85 361.9,553.84 364.4,558.83 361.9,563.82 364.4,568.81 361.9,573.8" fill="none" stroke="#2f74b5" stroke-width="0.9" stroke-linejoin="round" stroke-linecap="round"/>
<polyline points="364.4,528.88 369.5,528.88" fill="none" stroke="#2f74b5" stroke-width="0.9" stroke-linejoin="round" stroke-linecap="round"/>
<polyline points="377.8,509.1 381.6,513.2" fill="none" stroke="#0a0a0a" stroke-width="0.72" stroke-linejoin="round" stroke-linecap="round"/>
<polyline points="383,517 383.5,521.7" fill="none" stroke="#0a0a0a" stroke-width="0.72" stroke-linejoin="round" stroke-linecap="round"/>
<polyline points="383.5,521.15 387.5,521.15" fill="none" stroke="#0a0a0a" stroke-width="0.65" stroke-linejoin="round" stroke-linecap="round"/>
<polyline points="383.5,522.25 387.5,522.25" fill="none" stroke="#0a0a0a" stroke-width="0.65" stroke-linejoin="round" stroke-linecap="round"/>
<polyline points="383.5,521.7 380.9,526.83 383.5,531.96 380.9,537.09 383.5,542.22 380.9,547.35 383.5,552.48 380.9,557.62 383.5,562.75 380.9,567.88 383.5,573.01 380.9,578.14 383.5,583.27 380.9,588.4" fill="none" stroke="#0a0a0a" stroke-width="0.72" stroke-linejoin="round" stroke-linecap="round"/>
<polyline points="383.5,531.96 388.6,532.5" fill="none" stroke="#0a0a0a" stroke-width="0.72" stroke-linejoin="round" stroke-linecap="round"/>
<polyline points="390.8,533.7 392.5,537.3" fill="none" stroke="#de7c28" stroke-width="0.9" stroke-linejoin="round" stroke-linecap="round"/>
<polyline points="392.5,536.75 396.7,536.75" fill="none" stroke="#de7c28" stroke-width="0.65" stroke-linejoin="round" stroke-linecap="round"/>
<polyline points="392.5,537.85 396.7,537.85" fill="none" stroke="#de7c28" stroke-width="0.65" stroke-linejoin="round" stroke-linecap="round"/>
<polyline points="392.5,537.3 390.1,542.41 392.5,547.52 390.1,552.63 392.5,557.74 390.1,562.85 392.5,567.95 390.1,573.06 392.5,578.17 390.1,583.28 392.5,588.39 390.1,593.5" fill="none" stroke="#de7c28" stroke-width="0.9" stroke-linejoin="round" stroke-linecap="round"/>
<polyline points="442.9,494.6 452.1,494.6" fill="none" stroke="#0a0a0a" stroke-width="0.72" stroke-linejoin="round" stroke-linecap="round"/>
<polyline points="447.05,493.4 447.05,490.6" fill="none" stroke="#0a0a0a" stroke-width="0.65" stroke-linejoin="round" stroke-linecap="round"/>
<polyline points="447.95,493.4 447.95,490.6" fill="none" stroke="#0a0a0a" stroke-width="0.65" stroke-linejoin="round" stroke-linecap="round"/>
<polyline points="447.5,495.8 447.8,498.5" fill="none" stroke="#0a0a0a" stroke-width="0.72" stroke-linejoin="round" stroke-linecap="round"/>
<polyline points="456.2,495 459.9,496.8" fill="none" stroke="#0a0a0a" stroke-width="0.72" stroke-linejoin="round" stroke-linecap="round"/>
<polyline points="459.9,496.8 467.9,497.5 475.9,496.1 481,503.4" fill="none" stroke="#0a0a0a" stroke-width="0.72" stroke-linejoin="round" stroke-linecap="round"/>
<polyline points="459.9,496.8 463.5,502.6 473,501.2" fill="none" stroke="#0a0a0a" stroke-width="1.3" stroke-linejoin="round" stroke-linecap="round"/>
<polyline points="473,501.2 481,503.4" fill="none" stroke="#0a0a0a" stroke-width="1" stroke-linejoin="round" stroke-linecap="round"/>
<polyline points="467.9,497.5 466.5,492.5 461.6,490.4" fill="none" stroke="#0a0a0a" stroke-width="0.72" stroke-linejoin="round" stroke-linecap="round"/>
<polyline points="463.5,502.6 458.9,504.2" fill="none" stroke="#0a0a0a" stroke-width="0.72" stroke-linejoin="round" stroke-linecap="round"/>
<polyline points="456.4,506.2 454.1,509.9" fill="none" stroke="#0a0a0a" stroke-width="0.72" stroke-linejoin="round" stroke-linecap="round"/>
<polyline points="454.1,509.35 449.4,509.35" fill="none" stroke="#0a0a0a" stroke-width="0.65" stroke-linejoin="round" stroke-linecap="round"/>
<polyline points="454.1,510.45 449.4,510.45" fill="none" stroke="#0a0a0a" stroke-width="0.65" stroke-linejoin="round" stroke-linecap="round"/>
<polyline points="454.1,509.9 456.5,515.05 454.1,520.21 456.5,525.36 454.1,530.52 456.5,535.67 454.1,540.82 456.5,545.98 454.1,551.13 456.5,556.28 454.1,561.44 456.5,566.59 454.1,571.75 456.5,576.9" fill="none" stroke="#0a0a0a" stroke-width="0.72" stroke-linejoin="round" stroke-linecap="round"/>
<polyline points="454.1,520.21 449.2,520.5" fill="none" stroke="#0a0a0a" stroke-width="0.72" stroke-linejoin="round" stroke-linecap="round"/>
<polyline points="446.6,521.7 443.9,525.9" fill="none" stroke="#2e9a3e" stroke-width="0.9" stroke-linejoin="round" stroke-linecap="round"/>
<polyline points="443.9,525.35 439.9,525.35" fill="none" stroke="#2e9a3e" stroke-width="0.65" stroke-linejoin="round" stroke-linecap="round"/>
<polyline points="443.9,526.45 439.9,526.45" fill="none" stroke="#2e9a3e" stroke-width="0.65" stroke-linejoin="round" stroke-linecap="round"/>
<polyline points="443.9,525.9 446.5,531.1 443.9,536.3 446.5,541.5 443.9,546.7 446.5,551.9 443.9,557.1 446.5,562.3 443.9,567.5 446.5,572.7 443.9,577.9 446.5,583.1 443.9,588.3 446.5,593.5" fill="none" stroke="#2e9a3e" stroke-width="0.9" stroke-linejoin="round" stroke-linecap="round"/>
<polyline points="473,501.2 475,505.6" fill="none" stroke="#0a0a0a" stroke-width="0.72" stroke-linejoin="round" stroke-linecap="round"/>
<polyline points="474.8,509.3 472.3,512.8" fill="none" stroke="#0a0a0a" stroke-width="0.72" stroke-linejoin="round" stroke-linecap="round"/>
<polyline points="472.3,512.25 468.3,512.25" fill="none" stroke="#0a0a0a" stroke-width="0.65" stroke-linejoin="round" stroke-linecap="round"/>
<polyline points="472.3,513.35 468.3,513.35" fill="none" stroke="#0a0a0a" stroke-width="0.65" stroke-linejoin="round" stroke-linecap="round"/>
<polyline points="472.3,512.8 475,517.86 472.3,522.92 475,527.98 472.3,533.05 475,538.11 472.3,543.17 475,548.23 472.3,553.29 475,558.35 472.3,563.42 475,568.48 472.3,573.54 475,578.6" fill="none" stroke="#0a0a0a" stroke-width="0.72" stroke-linejoin="round" stroke-linecap="round"/>
<polyline points="472.3,522.92 469.5,522.9" fill="none" stroke="#0a0a0a" stroke-width="0.72" stroke-linejoin="round" stroke-linecap="round"/>
<polyline points="467.2,524.1 464.6,529.5" fill="none" stroke="#de7c28" stroke-width="0.9" stroke-linejoin="round" stroke-linecap="round"/>
<polyline points="464.6,528.95 460.4,528.95" fill="none" stroke="#de7c28" stroke-width="0.65" stroke-linejoin="round" stroke-linecap="round"/>
<polyline points="464.6,530.05 460.4,530.05" fill="none" stroke="#de7c28" stroke-width="0.65" stroke-linejoin="round" stroke-linecap="round"/>
<polyline points="464.6,529.5 467.1,534.6 464.6,539.7 467.1,544.8 464.6,549.9 467.1,555 464.6,560.1 467.1,565.2 464.6,570.3 467.1,575.4 464.6,580.5 467.1,585.6" fill="none" stroke="#de7c28" stroke-width="0.9" stroke-linejoin="round" stroke-linecap="round"/>
<polyline points="481,503.4 493.5,497.9" fill="none" stroke="#0a0a0a" stroke-width="0.72" stroke-linejoin="round" stroke-linecap="round"/>
<polyline points="496.5,497.3 503.5,497.9 510.5,505.8" fill="none" stroke="#0a0a0a" stroke-width="0.72" stroke-linejoin="round" stroke-linecap="round"/>
<polyline points="502.9,505.3 510.5,505.8 520.1,504.5 525.2,511.9" fill="none" stroke="#0a0a0a" stroke-width="0.72" stroke-linejoin="round" stroke-linecap="round"/>
<polyline points="502.9,505.3 507.4,511.7 516.9,509.6" fill="none" stroke="#0a0a0a" stroke-width="1.3" stroke-linejoin="round" stroke-linecap="round"/>
<polyline points="516.9,509.6 525.2,511.9" fill="none" stroke="#0a0a0a" stroke-width="1" stroke-linejoin="round" stroke-linecap="round"/>
<polyline points="502.9,505.3 498.4,505.5" fill="none" stroke="#0a0a0a" stroke-width="0.72" stroke-linejoin="round" stroke-linecap="round"/>
<polyline points="525.2,511.9 528.4,510.2" fill="none" stroke="#0a0a0a" stroke-width="0.72" stroke-linejoin="round" stroke-linecap="round"/>
<polyline points="531.4,509.1 540.6,509.1" fill="none" stroke="#0a0a0a" stroke-width="0.72" stroke-linejoin="round" stroke-linecap="round"/>
<polyline points="535.55,507.9 535.55,505.1" fill="none" stroke="#0a0a0a" stroke-width="0.65" stroke-linejoin="round" stroke-linecap="round"/>
<polyline points="536.45,507.9 536.45,505.1" fill="none" stroke="#0a0a0a" stroke-width="0.65" stroke-linejoin="round" stroke-linecap="round"/>
<polyline points="536,510.3 536.3,513" fill="none" stroke="#0a0a0a" stroke-width="0.72" stroke-linejoin="round" stroke-linecap="round"/>
<polyline points="507.4,511.7 502.6,512.5" fill="none" stroke="#0a0a0a" stroke-width="0.72" stroke-linejoin="round" stroke-linecap="round"/>
<polyline points="501.4,514.8 502.9,519.3" fill="none" stroke="#0a0a0a" stroke-width="0.72" stroke-linejoin="round" stroke-linecap="round"/>
<polyline points="502.9,518.75 507.4,518.75" fill="none" stroke="#0a0a0a" stroke-width="0.65" stroke-linejoin="round" stroke-linecap="round"/>
<polyline points="502.9,519.85 507.4,519.85" fill="none" stroke="#0a0a0a" stroke-width="0.65" stroke-linejoin="round" stroke-linecap="round"/>
<polyline points="502.9,519.3 500.3,524.33 502.9,529.36 500.3,534.39 502.9,539.42 500.3,544.45 502.9,549.48 500.3,554.52 502.9,559.55 500.3,564.58 502.9,569.61 500.3,574.64 502.9,579.67 500.3,584.7" fill="none" stroke="#0a0a0a" stroke-width="0.72" stroke-linejoin="round" stroke-linecap="round"/>
<polyline points="502.9,529.36 508.1,529.36" fill="none" stroke="#0a0a0a" stroke-width="0.72" stroke-linejoin="round" stroke-linecap="round"/>
<polyline points="516.9,509.6 519.9,514" fill="none" stroke="#0a0a0a" stroke-width="0.72" stroke-linejoin="round" stroke-linecap="round"/>
<polyline points="521.6,517.7 523.3,522.3" fill="none" stroke="#0a0a0a" stroke-width="0.72" stroke-linejoin="round" stroke-linecap="round"/>
<polyline points="523.3,521.75 527.5,521.75" fill="none" stroke="#0a0a0a" stroke-width="0.65" stroke-linejoin="round" stroke-linecap="round"/>
<polyline points="523.3,522.85 527.5,522.85" fill="none" stroke="#0a0a0a" stroke-width="0.65" stroke-linejoin="round" stroke-linecap="round"/>
<polyline points="523.3,522.3 520.6,527.39 523.3,532.48 520.6,537.58 523.3,542.67 520.6,547.76 523.3,552.85 520.6,557.95 523.3,563.04 520.6,568.13 523.3,573.22 520.6,578.32 523.3,583.41 520.6,588.5" fill="none" stroke="#0a0a0a" stroke-width="0.72" stroke-linejoin="round" stroke-linecap="round"/>
<polyline points="523.3,532.48 527.4,533" fill="none" stroke="#0a0a0a" stroke-width="0.72" stroke-linejoin="round" stroke-linecap="round"/>
<polyline points="529.8,534.2 531.9,537.6" fill="none" stroke="#cf3a3a" stroke-width="0.9" stroke-linejoin="round" stroke-linecap="round"/>
<polyline points="531.9,537.05 536,537.05" fill="none" stroke="#cf3a3a" stroke-width="0.65" stroke-linejoin="round" stroke-linecap="round"/>
<polyline points="531.9,538.15 536,538.15" fill="none" stroke="#cf3a3a" stroke-width="0.65" stroke-linejoin="round" stroke-linecap="round"/>
<polyline points="531.9,537.6 529.4,542.73 531.9,547.87 529.4,553 531.9,558.13 529.4,563.27 531.9,568.4 529.4,573.53 531.9,578.67 529.4,583.8 531.9,588.93 529.4,594.07 531.9,599.2 529.4,604.33 531.9,609.47 529.4,614.6" fill="none" stroke="#cf3a3a" stroke-width="0.9" stroke-linejoin="round" stroke-linecap="round"/>
<ellipse cx="43.9" cy="495.3" rx="1.66" ry="1.91" fill="#fff"/>
<ellipse cx="26" cy="488.7" rx="3.18" ry="1.91" fill="#fff"/>
<ellipse cx="14.9" cy="488.4" rx="1.66" ry="1.91" fill="#fff"/>
<ellipse cx="16.3" cy="499.7" rx="3.18" ry="1.91" fill="#fff"/>
<ellipse cx="14.9" cy="494" rx="1.66" ry="1.91" fill="#fff"/>
<ellipse cx="6.2" cy="494" rx="3.18" ry="1.91" fill="#fff"/>
<ellipse cx="21.4" cy="494" rx="1.66" ry="1.91" fill="#fff"/>
<ellipse cx="25.8" cy="504.2" rx="1.66" ry="1.91" fill="#fff"/>
<ellipse cx="15.4" cy="509.5" rx="1.66" ry="1.91" fill="#fff"/>
<ellipse cx="13.4" cy="519.73" rx="3.18" ry="1.91" fill="#fff"/>
<ellipse cx="43.4" cy="506.7" rx="3.18" ry="1.91" fill="#fff"/>
<ellipse cx="33.2" cy="511.8" rx="1.66" ry="1.91" fill="#fff"/>
<ellipse cx="35.4" cy="522" rx="1.66" ry="1.91" fill="#fff"/>
<ellipse cx="26" cy="529" rx="1.66" ry="1.91" fill="#fff"/>
<ellipse cx="62.3" cy="496.3" rx="1.66" ry="1.91" fill="#fff"/>
<ellipse cx="88.2" cy="503.2" rx="1.66" ry="1.91" fill="#fff"/>
<ellipse cx="62.7" cy="505" rx="3.18" ry="1.91" fill="#fff"/>
<ellipse cx="103.5" cy="503.4" rx="1.66" ry="1.91" fill="#fff"/>
<ellipse cx="104.9" cy="514.7" rx="3.18" ry="1.91" fill="#fff"/>
<ellipse cx="103.5" cy="509" rx="1.66" ry="1.91" fill="#fff"/>
<ellipse cx="97" cy="509" rx="1.66" ry="1.91" fill="#fff"/>
<ellipse cx="110.8" cy="509" rx="3.18" ry="1.91" fill="#fff"/>
<ellipse cx="68.8" cy="513.3" rx="1.66" ry="1.91" fill="#fff"/>
<ellipse cx="76.7" cy="518.2" rx="1.66" ry="1.91" fill="#fff"/>
<ellipse cx="78.2" cy="528.38" rx="3.18" ry="1.91" fill="#fff"/>
<ellipse cx="89.5" cy="515.6" rx="3.18" ry="1.91" fill="#fff"/>
<ellipse cx="96.4" cy="521.4" rx="1.66" ry="1.91" fill="#fff"/>
<ellipse cx="98.1" cy="531.71" rx="3.18" ry="1.91" fill="#fff"/>
<ellipse cx="141.2" cy="484.3" rx="1.66" ry="1.91" fill="#fff"/>
<ellipse cx="127.6" cy="478" rx="4.69" ry="1.91" fill="#fff"/>
<ellipse cx="121.1" cy="490.1" rx="3.18" ry="1.91" fill="#fff"/>
<ellipse cx="141.8" cy="494.7" rx="3.18" ry="1.91" fill="#fff"/>
<ellipse cx="148.7" cy="496.6" rx="1.66" ry="1.91" fill="#fff"/>
<ellipse cx="154.6" cy="491" rx="1.66" ry="1.91" fill="#fff"/>
<ellipse cx="156" cy="502.3" rx="3.18" ry="1.91" fill="#fff"/>
<ellipse cx="154.6" cy="496.6" rx="1.66" ry="1.91" fill="#fff"/>
<ellipse cx="161" cy="496.6" rx="1.66" ry="1.91" fill="#fff"/>
<ellipse cx="188.5" cy="495.4" rx="1.66" ry="1.91" fill="#fff"/>
<ellipse cx="171" cy="488.6" rx="3.18" ry="1.91" fill="#fff"/>
<ellipse cx="169.5" cy="504.5" rx="1.66" ry="1.91" fill="#fff"/>
<ellipse cx="179" cy="509.6" rx="1.66" ry="1.91" fill="#fff"/>
<ellipse cx="180.8" cy="519.97" rx="3.18" ry="1.91" fill="#fff"/>
<ellipse cx="186.3" cy="507.2" rx="3.18" ry="1.91" fill="#fff"/>
<ellipse cx="197.7" cy="512.5" rx="1.66" ry="1.91" fill="#fff"/>
<ellipse cx="197.8" cy="522.7" rx="1.66" ry="1.91" fill="#fff"/>
<ellipse cx="206.3" cy="527.6" rx="1.66" ry="1.91" fill="#fff"/>
<ellipse cx="206.3" cy="495.9" rx="1.66" ry="1.91" fill="#fff"/>
<ellipse cx="232.5" cy="503.5" rx="1.66" ry="1.91" fill="#fff"/>
<ellipse cx="207.1" cy="504.9" rx="3.18" ry="1.91" fill="#fff"/>
<ellipse cx="212.8" cy="513.9" rx="3.18" ry="1.91" fill="#fff"/>
<ellipse cx="250.5" cy="507.1" rx="1.66" ry="1.91" fill="#fff"/>
<ellipse cx="251.9" cy="518.4" rx="3.18" ry="1.91" fill="#fff"/>
<ellipse cx="250.5" cy="512.7" rx="1.66" ry="1.91" fill="#fff"/>
<ellipse cx="243.5" cy="512.7" rx="1.66" ry="1.91" fill="#fff"/>
<ellipse cx="257.5" cy="512.7" rx="1.66" ry="1.91" fill="#fff"/>
<ellipse cx="233.3" cy="515.5" rx="3.18" ry="1.91" fill="#fff"/>
<ellipse cx="240.3" cy="522" rx="1.66" ry="1.91" fill="#fff"/>
<ellipse cx="242.3" cy="531.9" rx="1.66" ry="1.91" fill="#fff"/>
<ellipse cx="252.8" cy="538.7" rx="1.66" ry="1.91" fill="#fff"/>
<ellipse cx="239" cy="544.5" rx="3.52" ry="1.42" fill="#fff"/>
<ellipse cx="262.4" cy="498" rx="1.66" ry="1.91" fill="#fff"/>
<ellipse cx="281.4" cy="492.9" rx="4.69" ry="1.91" fill="#fff"/>
<ellipse cx="282.7" cy="504.9" rx="3.18" ry="1.91" fill="#fff"/>
<ellipse cx="262.6" cy="508.9" rx="3.18" ry="1.91" fill="#fff"/>
<ellipse cx="297.3" cy="497.3" rx="3.18" ry="1.91" fill="#fff"/>
<ellipse cx="306" cy="491.6" rx="1.66" ry="1.91" fill="#fff"/>
<ellipse cx="307.4" cy="502.9" rx="3.18" ry="1.91" fill="#fff"/>
<ellipse cx="306" cy="497.2" rx="1.66" ry="1.91" fill="#fff"/>
<ellipse cx="312.8" cy="497.2" rx="1.66" ry="1.91" fill="#fff"/>
<ellipse cx="336.5" cy="494.5" rx="1.66" ry="1.91" fill="#fff"/>
<ellipse cx="319.8" cy="488.7" rx="3.18" ry="1.91" fill="#fff"/>
<ellipse cx="318.8" cy="504.7" rx="1.66" ry="1.91" fill="#fff"/>
<ellipse cx="327.9" cy="510.3" rx="1.66" ry="1.91" fill="#fff"/>
<ellipse cx="329.7" cy="520.37" rx="3.18" ry="1.91" fill="#fff"/>
<ellipse cx="336.7" cy="506.9" rx="3.18" ry="1.91" fill="#fff"/>
<ellipse cx="342.7" cy="511.3" rx="1.66" ry="1.91" fill="#fff"/>
<ellipse cx="343.1" cy="522.2" rx="1.66" ry="1.91" fill="#fff"/>
<ellipse cx="351.3" cy="527.7" rx="1.66" ry="1.91" fill="#fff"/>
<ellipse cx="355.7" cy="496.6" rx="1.66" ry="1.91" fill="#fff"/>
<ellipse cx="381.1" cy="504.2" rx="1.66" ry="1.91" fill="#fff"/>
<ellipse cx="356.4" cy="505.4" rx="3.18" ry="1.91" fill="#fff"/>
<ellipse cx="397.5" cy="503.9" rx="1.66" ry="1.91" fill="#fff"/>
<ellipse cx="398.9" cy="515.2" rx="3.18" ry="1.91" fill="#fff"/>
<ellipse cx="397.5" cy="509.5" rx="1.66" ry="1.91" fill="#fff"/>
<ellipse cx="390.7" cy="509.5" rx="1.66" ry="1.91" fill="#fff"/>
<ellipse cx="404.6" cy="509.5" rx="1.66" ry="1.91" fill="#fff"/>
<ellipse cx="411.9" cy="503.9" rx="1.66" ry="1.91" fill="#fff"/>
<ellipse cx="413.3" cy="515.2" rx="3.18" ry="1.91" fill="#fff"/>
<ellipse cx="411.9" cy="509.5" rx="1.66" ry="1.91" fill="#fff"/>
<ellipse cx="418.7" cy="509.5" rx="1.66" ry="1.91" fill="#fff"/>
<ellipse cx="437" cy="512.6" rx="4.69" ry="1.91" fill="#fff"/>
<ellipse cx="362.3" cy="513.5" rx="1.66" ry="1.91" fill="#fff"/>
<ellipse cx="370.9" cy="518.9" rx="1.66" ry="1.91" fill="#fff"/>
<ellipse cx="372.7" cy="528.88" rx="3.18" ry="1.91" fill="#fff"/>
<ellipse cx="382.7" cy="515.2" rx="3.18" ry="1.91" fill="#fff"/>
<ellipse cx="389.4" cy="521.7" rx="1.66" ry="1.91" fill="#fff"/>
<ellipse cx="390.1" cy="532.4" rx="1.66" ry="1.91" fill="#fff"/>
<ellipse cx="398.6" cy="537.3" rx="1.66" ry="1.91" fill="#fff"/>
<ellipse cx="447.5" cy="489" rx="1.66" ry="1.91" fill="#fff"/>
<ellipse cx="448.9" cy="500.3" rx="3.18" ry="1.91" fill="#fff"/>
<ellipse cx="447.5" cy="494.6" rx="1.66" ry="1.91" fill="#fff"/>
<ellipse cx="438.5" cy="494.6" rx="3.18" ry="1.91" fill="#fff"/>
<ellipse cx="454.3" cy="494.6" rx="1.66" ry="1.91" fill="#fff"/>
<ellipse cx="475.9" cy="496.1" rx="1.66" ry="1.91" fill="#fff"/>
<ellipse cx="458.7" cy="489.5" rx="3.18" ry="1.91" fill="#fff"/>
<ellipse cx="457.3" cy="504.8" rx="1.66" ry="1.91" fill="#fff"/>
<ellipse cx="447.5" cy="509.9" rx="1.66" ry="1.91" fill="#fff"/>
<ellipse cx="447.5" cy="520.4" rx="1.66" ry="1.91" fill="#fff"/>
<ellipse cx="438" cy="525.9" rx="1.66" ry="1.91" fill="#fff"/>
<ellipse cx="476.1" cy="507.7" rx="3.18" ry="1.91" fill="#fff"/>
<ellipse cx="466.4" cy="512.8" rx="1.66" ry="1.91" fill="#fff"/>
<ellipse cx="467.9" cy="522.7" rx="1.66" ry="1.91" fill="#fff"/>
<ellipse cx="458.5" cy="529.5" rx="1.66" ry="1.91" fill="#fff"/>
<ellipse cx="495" cy="497.2" rx="1.66" ry="1.91" fill="#fff"/>
<ellipse cx="520.1" cy="504.5" rx="1.66" ry="1.91" fill="#fff"/>
<ellipse cx="495.3" cy="505.5" rx="3.18" ry="1.91" fill="#fff"/>
<ellipse cx="536" cy="503.5" rx="1.66" ry="1.91" fill="#fff"/>
<ellipse cx="537.4" cy="514.8" rx="3.18" ry="1.91" fill="#fff"/>
<ellipse cx="536" cy="509.1" rx="1.66" ry="1.91" fill="#fff"/>
<ellipse cx="529.2" cy="509.1" rx="1.66" ry="1.91" fill="#fff"/>
<ellipse cx="543.6" cy="509.1" rx="3.18" ry="1.91" fill="#fff"/>
<ellipse cx="501" cy="513.2" rx="1.66" ry="1.91" fill="#fff"/>
<ellipse cx="509.3" cy="519.3" rx="1.66" ry="1.91" fill="#fff"/>
<ellipse cx="511.3" cy="529.36" rx="3.18" ry="1.91" fill="#fff"/>
<ellipse cx="521" cy="516" rx="3.18" ry="1.91" fill="#fff"/>
<ellipse cx="529.4" cy="522.3" rx="1.66" ry="1.91" fill="#fff"/>
<ellipse cx="529" cy="532.9" rx="1.66" ry="1.91" fill="#fff"/>
<ellipse cx="537.9" cy="537.6" rx="1.66" ry="1.91" fill="#fff"/>
<text x="43.9" y="496.9" font-family='"Liberation Sans", sans-serif' font-size="4.45" font-weight="normal" text-anchor="middle" fill="#0a0a0a">O</text>
<text x="26" y="490.3" font-family='"Liberation Sans", sans-serif' font-size="4.45" font-weight="normal" text-anchor="middle" fill="#0a0a0a">HO</text>
<text x="14.9" y="490" font-family='"Liberation Sans", sans-serif' font-size="4.45" font-weight="normal" text-anchor="middle" fill="#0a0a0a">O</text>
<text x="16.3" y="501.3" font-family='"Liberation Sans", sans-serif' font-size="4.45" font-weight="normal" text-anchor="middle" fill="#0a0a0a">OH</text>
<text x="14.9" y="495.6" font-family='"Liberation Sans", sans-serif' font-size="4.45" font-weight="normal" text-anchor="middle" fill="#0a0a0a">P</text>
<text x="6.2" y="495.6" font-family='"Liberation Sans", sans-serif' font-size="4.45" font-weight="normal" text-anchor="middle" fill="#0a0a0a">OH</text>
<text x="21.4" y="495.6" font-family='"Liberation Sans", sans-serif' font-size="4.45" font-weight="normal" text-anchor="middle" fill="#0a0a0a">O</text>
<text x="25.8" y="505.8" font-family='"Liberation Sans", sans-serif' font-size="4.45" font-weight="normal" text-anchor="middle" fill="#0a0a0a">O</text>
<text x="15.4" y="511.1" font-family='"Liberation Sans", sans-serif' font-size="4.45" font-weight="normal" text-anchor="middle" fill="#0a0a0a">O</text>
<text x="13.4" y="521.33" font-family='"Liberation Sans", sans-serif' font-size="4.45" font-weight="normal" text-anchor="middle" fill="#0a0a0a">HO</text>
<text x="23.3" y="582.13" font-family='"Liberation Serif", serif' font-size="4.8" font-weight="normal" text-anchor="middle" fill="#0a0a0a">14</text>
<text x="43.4" y="508.3" font-family='"Liberation Sans", sans-serif' font-size="4.45" font-weight="normal" text-anchor="middle" fill="#0a0a0a">NH</text>
<text x="33.2" y="513.4" font-family='"Liberation Sans", sans-serif' font-size="4.45" font-weight="normal" text-anchor="middle" fill="#0a0a0a">O</text>
<text x="35.4" y="523.6" font-family='"Liberation Sans", sans-serif' font-size="4.45" font-weight="normal" text-anchor="middle" fill="#0a0a0a">O</text>
<text x="26" y="530.6" font-family='"Liberation Sans", sans-serif' font-size="4.45" font-weight="bold" text-anchor="middle" fill="#2e9a3e">O</text>
<text x="33.8" y="601.73" font-family='"Liberation Serif", serif' font-size="4.8" font-weight="bold" text-anchor="middle" fill="#1f8a30">14</text>
<text x="41.9" y="585.33" font-family='"Liberation Serif", serif' font-size="4.8" font-weight="normal" text-anchor="middle" fill="#0a0a0a">14</text>
<text x="62.3" y="497.9" font-family='"Liberation Sans", sans-serif' font-size="4.45" font-weight="normal" text-anchor="middle" fill="#0a0a0a">O</text>
<text x="88.2" y="504.8" font-family='"Liberation Sans", sans-serif' font-size="4.45" font-weight="normal" text-anchor="middle" fill="#0a0a0a">O</text>
<text x="62.7" y="506.6" font-family='"Liberation Sans", sans-serif' font-size="4.45" font-weight="normal" text-anchor="middle" fill="#0a0a0a">HO</text>
<text x="103.5" y="505" font-family='"Liberation Sans", sans-serif' font-size="4.45" font-weight="normal" text-anchor="middle" fill="#0a0a0a">O</text>
<text x="104.9" y="516.3" font-family='"Liberation Sans", sans-serif' font-size="4.45" font-weight="normal" text-anchor="middle" fill="#0a0a0a">OH</text>
<text x="103.5" y="510.6" font-family='"Liberation Sans", sans-serif' font-size="4.45" font-weight="normal" text-anchor="middle" fill="#0a0a0a">P</text>
<text x="97" y="510.6" font-family='"Liberation Sans", sans-serif' font-size="4.45" font-weight="normal" text-anchor="middle" fill="#0a0a0a">O</text>
<text x="110.8" y="510.6" font-family='"Liberation Sans", sans-serif' font-size="4.45" font-weight="normal" text-anchor="middle" fill="#0a0a0a">OH</text>
<text x="68.8" y="514.9" font-family='"Liberation Sans", sans-serif' font-size="4.45" font-weight="normal" text-anchor="middle" fill="#0a0a0a">O</text>
<text x="76.7" y="519.8" font-family='"Liberation Sans", sans-serif' font-size="4.45" font-weight="bold" text-anchor="middle" fill="#2a9fa6">O</text>
<text x="78.2" y="529.98" font-family='"Liberation Sans", sans-serif' font-size="4.45" font-weight="bold" text-anchor="middle" fill="#2a9fa6">OH</text>
<text x="69.4" y="569.43" font-family='"Liberation Serif", serif' font-size="4.8" font-weight="bold" text-anchor="middle" fill="#2a9fa6">10</text>
<text x="89.5" y="517.2" font-family='"Liberation Sans", sans-serif' font-size="4.45" font-weight="normal" text-anchor="middle" fill="#0a0a0a">NH</text>
<text x="96.4" y="523" font-family='"Liberation Sans", sans-serif' font-size="4.45" font-weight="normal" text-anchor="middle" fill="#0a0a0a">O</text>
<text x="98.1" y="533.31" font-family='"Liberation Sans", sans-serif' font-size="4.45" font-weight="normal" text-anchor="middle" fill="#0a0a0a">OH</text>
<text x="88.4" y="594.53" font-family='"Liberation Serif", serif' font-size="4.8" font-weight="normal" text-anchor="middle" fill="#0a0a0a">14</text>
<text x="141.2" y="485.9" font-family='"Liberation Sans", sans-serif' font-size="4.45" font-weight="bold" text-anchor="middle" fill="#d0105c">O</text>
<text x="127.6" y="479.6" font-family='"Liberation Sans", sans-serif' font-size="4.45" font-weight="bold" text-anchor="middle" fill="#d0105c">NH<tspan font-size="2.6" dy="0.8">2</tspan></text>
<text x="121.1" y="491.7" font-family='"Liberation Sans", sans-serif' font-size="4.45" font-weight="bold" text-anchor="middle" fill="#d0105c">HO</text>
<text x="141.8" y="496.3" font-family='"Liberation Sans", sans-serif' font-size="4.45" font-weight="bold" text-anchor="middle" fill="#d0105c">OH</text>
<text x="148.7" y="498.2" font-family='"Liberation Sans", sans-serif' font-size="4.45" font-weight="normal" text-anchor="middle" fill="#0a0a0a">O</text>
<text x="154.6" y="492.6" font-family='"Liberation Sans", sans-serif' font-size="4.45" font-weight="normal" text-anchor="middle" fill="#0a0a0a">O</text>
<text x="156" y="503.9" font-family='"Liberation Sans", sans-serif' font-size="4.45" font-weight="normal" text-anchor="middle" fill="#0a0a0a">OH</text>
<text x="154.6" y="498.2" font-family='"Liberation Sans", sans-serif' font-size="4.45" font-weight="normal" text-anchor="middle" fill="#0a0a0a">P</text>
<text x="161" y="498.2" font-family='"Liberation Sans", sans-serif' font-size="4.45" font-weight="normal" text-anchor="middle" fill="#0a0a0a">O</text>
<text x="188.5" y="497" font-family='"Liberation Sans", sans-serif' font-size="4.45" font-weight="normal" text-anchor="middle" fill="#0a0a0a">O</text>
<text x="171" y="490.2" font-family='"Liberation Sans", sans-serif' font-size="4.45" font-weight="normal" text-anchor="middle" fill="#0a0a0a">HO</text>
<text x="169.5" y="506.1" font-family='"Liberation Sans", sans-serif' font-size="4.45" font-weight="normal" text-anchor="middle" fill="#0a0a0a">O</text>
<text x="179" y="511.2" font-family='"Liberation Sans", sans-serif' font-size="4.45" font-weight="normal" text-anchor="middle" fill="#0a0a0a">O</text>
<text x="180.8" y="521.57" font-family='"Liberation Sans", sans-serif' font-size="4.45" font-weight="normal" text-anchor="middle" fill="#0a0a0a">OH</text>
<text x="170.4" y="583.13" font-family='"Liberation Serif", serif' font-size="4.8" font-weight="normal" text-anchor="middle" fill="#0a0a0a">14</text>
<text x="186.3" y="508.8" font-family='"Liberation Sans", sans-serif' font-size="4.45" font-weight="normal" text-anchor="middle" fill="#0a0a0a">NH</text>
<text x="197.7" y="514.1" font-family='"Liberation Sans", sans-serif' font-size="4.45" font-weight="normal" text-anchor="middle" fill="#0a0a0a">O</text>
<text x="197.8" y="524.3" font-family='"Liberation Sans", sans-serif' font-size="4.45" font-weight="normal" text-anchor="middle" fill="#0a0a0a">O</text>
<text x="206.3" y="529.2" font-family='"Liberation Sans", sans-serif' font-size="4.45" font-weight="bold" text-anchor="middle" fill="#2e9a3e">O</text>
<text x="199.4" y="601.13" font-family='"Liberation Serif", serif' font-size="4.8" font-weight="bold" text-anchor="middle" fill="#1f8a30">14</text>
<text x="190" y="585.33" font-family='"Liberation Serif", serif' font-size="4.8" font-weight="normal" text-anchor="middle" fill="#0a0a0a">14</text>
<text x="206.3" y="497.5" font-family='"Liberation Sans", sans-serif' font-size="4.45" font-weight="normal" text-anchor="middle" fill="#0a0a0a">O</text>
<text x="232.5" y="505.1" font-family='"Liberation Sans", sans-serif' font-size="4.45" font-weight="normal" text-anchor="middle" fill="#0a0a0a">O</text>
<text x="207.1" y="506.5" font-family='"Liberation Sans", sans-serif' font-size="4.45" font-weight="normal" text-anchor="middle" fill="#0a0a0a">HO</text>
<text x="212.8" y="515.5" font-family='"Liberation Sans", sans-serif' font-size="4.45" font-weight="normal" text-anchor="middle" fill="#0a0a0a">HO</text>
<text x="250.5" y="508.7" font-family='"Liberation Sans", sans-serif' font-size="4.45" font-weight="normal" text-anchor="middle" fill="#0a0a0a">O</text>
<text x="251.9" y="520" font-family='"Liberation Sans", sans-serif' font-size="4.45" font-weight="normal" text-anchor="middle" fill="#0a0a0a">OH</text>
<text x="250.5" y="514.3" font-family='"Liberation Sans", sans-serif' font-size="4.45" font-weight="normal" text-anchor="middle" fill="#0a0a0a">P</text>
<text x="243.5" y="514.3" font-family='"Liberation Sans", sans-serif' font-size="4.45" font-weight="normal" text-anchor="middle" fill="#0a0a0a">O</text>
<text x="257.5" y="514.3" font-family='"Liberation Sans", sans-serif' font-size="4.45" font-weight="normal" text-anchor="middle" fill="#0a0a0a">O</text>
<text x="233.3" y="517.1" font-family='"Liberation Sans", sans-serif' font-size="4.45" font-weight="normal" text-anchor="middle" fill="#0a0a0a">NH</text>
<text x="240.3" y="523.6" font-family='"Liberation Sans", sans-serif' font-size="4.45" font-weight="normal" text-anchor="middle" fill="#0a0a0a">O</text>
<text x="242.3" y="533.5" font-family='"Liberation Sans", sans-serif' font-size="4.45" font-weight="normal" text-anchor="middle" fill="#0a0a0a">O</text>
<text x="252.8" y="540.3" font-family='"Liberation Sans", sans-serif' font-size="4.45" font-weight="bold" text-anchor="middle" fill="#2e9a3e">O</text>
<text x="239" y="545.69" font-family='"Liberation Sans", sans-serif' font-size="3.3" font-weight="bold" text-anchor="middle" fill="#1f8a30">HOH</text>
<text x="233.2" y="594.13" font-family='"Liberation Serif", serif' font-size="4.8" font-weight="normal" text-anchor="middle" fill="#0a0a0a">14</text>
<text x="245.6" y="612.33" font-family='"Liberation Serif", serif' font-size="4.8" font-weight="bold" text-anchor="middle" fill="#1f8a30">14/14OH</text>
<text x="262.4" y="499.6" font-family='"Liberation Sans", sans-serif' font-size="4.45" font-weight="bold" text-anchor="middle" fill="#d0105c">O</text>
<text x="281.4" y="494.5" font-family='"Liberation Sans", sans-serif' font-size="4.45" font-weight="bold" text-anchor="middle" fill="#d0105c">NH<tspan font-size="2.6" dy="0.8">2</tspan></text>
<text x="282.7" y="506.5" font-family='"Liberation Sans", sans-serif' font-size="4.45" font-weight="bold" text-anchor="middle" fill="#d0105c">OH</text>
<text x="262.6" y="510.5" font-family='"Liberation Sans", sans-serif' font-size="4.45" font-weight="bold" text-anchor="middle" fill="#d0105c">HO</text>
<text x="297.3" y="498.9" font-family='"Liberation Sans", sans-serif' font-size="4.45" font-weight="normal" text-anchor="middle" fill="#0a0a0a">HO</text>
<text x="306" y="493.2" font-family='"Liberation Sans", sans-serif' font-size="4.45" font-weight="normal" text-anchor="middle" fill="#0a0a0a">O</text>
<text x="307.4" y="504.5" font-family='"Liberation Sans", sans-serif' font-size="4.45" font-weight="normal" text-anchor="middle" fill="#0a0a0a">OH</text>
<text x="306" y="498.8" font-family='"Liberation Sans", sans-serif' font-size="4.45" font-weight="normal" text-anchor="middle" fill="#0a0a0a">P</text>
<text x="312.8" y="498.8" font-family='"Liberation Sans", sans-serif' font-size="4.45" font-weight="normal" text-anchor="middle" fill="#0a0a0a">O</text>
<text x="336.5" y="496.1" font-family='"Liberation Sans", sans-serif' font-size="4.45" font-weight="normal" text-anchor="middle" fill="#0a0a0a">O</text>
<text x="319.8" y="490.3" font-family='"Liberation Sans", sans-serif' font-size="4.45" font-weight="normal" text-anchor="middle" fill="#0a0a0a">HO</text>
<text x="318.8" y="506.3" font-family='"Liberation Sans", sans-serif' font-size="4.45" font-weight="normal" text-anchor="middle" fill="#0a0a0a">O</text>
<text x="327.9" y="511.9" font-family='"Liberation Sans", sans-serif' font-size="4.45" font-weight="bold" text-anchor="middle" fill="#2f74b5">O</text>
<text x="329.7" y="521.97" font-family='"Liberation Sans", sans-serif' font-size="4.45" font-weight="bold" text-anchor="middle" fill="#2f74b5">OH</text>
<text x="319.2" y="571.83" font-family='"Liberation Serif", serif' font-size="4.8" font-weight="bold" text-anchor="middle" fill="#2f74b5">12</text>
<text x="336.7" y="508.5" font-family='"Liberation Sans", sans-serif' font-size="4.45" font-weight="normal" text-anchor="middle" fill="#0a0a0a">NH</text>
<text x="342.7" y="512.9" font-family='"Liberation Sans", sans-serif' font-size="4.45" font-weight="normal" text-anchor="middle" fill="#0a0a0a">O</text>
<text x="343.1" y="523.8" font-family='"Liberation Sans", sans-serif' font-size="4.45" font-weight="normal" text-anchor="middle" fill="#0a0a0a">O</text>
<text x="351.3" y="529.3" font-family='"Liberation Sans", sans-serif' font-size="4.45" font-weight="bold" text-anchor="middle" fill="#de7c28">O</text>
<text x="333.2" y="584.93" font-family='"Liberation Serif", serif' font-size="4.8" font-weight="normal" text-anchor="middle" fill="#0a0a0a">14</text>
<text x="342.5" y="590.83" font-family='"Liberation Serif", serif' font-size="4.8" font-weight="bold" text-anchor="middle" fill="#de7c28">12</text>
<text x="355.7" y="498.2" font-family='"Liberation Sans", sans-serif' font-size="4.45" font-weight="normal" text-anchor="middle" fill="#0a0a0a">O</text>
<text x="381.1" y="505.8" font-family='"Liberation Sans", sans-serif' font-size="4.45" font-weight="normal" text-anchor="middle" fill="#0a0a0a">O</text>
<text x="356.4" y="507" font-family='"Liberation Sans", sans-serif' font-size="4.45" font-weight="normal" text-anchor="middle" fill="#0a0a0a">HO</text>
<text x="397.5" y="505.5" font-family='"Liberation Sans", sans-serif' font-size="4.45" font-weight="normal" text-anchor="middle" fill="#0a0a0a">O</text>
<text x="398.9" y="516.8" font-family='"Liberation Sans", sans-serif' font-size="4.45" font-weight="normal" text-anchor="middle" fill="#0a0a0a">OH</text>
<text x="397.5" y="511.1" font-family='"Liberation Sans", sans-serif' font-size="4.45" font-weight="normal" text-anchor="middle" fill="#0a0a0a">P</text>
<text x="390.7" y="511.1" font-family='"Liberation Sans", sans-serif' font-size="4.45" font-weight="normal" text-anchor="middle" fill="#0a0a0a">O</text>
<text x="404.6" y="511.1" font-family='"Liberation Sans", sans-serif' font-size="4.45" font-weight="normal" text-anchor="middle" fill="#0a0a0a">O</text>
<text x="411.9" y="505.5" font-family='"Liberation Sans", sans-serif' font-size="4.45" font-weight="normal" text-anchor="middle" fill="#0a0a0a">O</text>
<text x="413.3" y="516.8" font-family='"Liberation Sans", sans-serif' font-size="4.45" font-weight="normal" text-anchor="middle" fill="#0a0a0a">OH</text>
<text x="411.9" y="511.1" font-family='"Liberation Sans", sans-serif' font-size="4.45" font-weight="normal" text-anchor="middle" fill="#0a0a0a">P</text>
<text x="418.7" y="511.1" font-family='"Liberation Sans", sans-serif' font-size="4.45" font-weight="normal" text-anchor="middle" fill="#0a0a0a">O</text>
<text x="437" y="514.2" font-family='"Liberation Sans", sans-serif' font-size="4.45" font-weight="normal" text-anchor="middle" fill="#0a0a0a">NH<tspan font-size="2.6" dy="0.8">2</tspan></text>
<text x="362.3" y="515.1" font-family='"Liberation Sans", sans-serif' font-size="4.45" font-weight="normal" text-anchor="middle" fill="#0a0a0a">O</text>
<text x="370.9" y="520.5" font-family='"Liberation Sans", sans-serif' font-size="4.45" font-weight="bold" text-anchor="middle" fill="#2f74b5">O</text>
<text x="372.7" y="530.48" font-family='"Liberation Sans", sans-serif' font-size="4.45" font-weight="bold" text-anchor="middle" fill="#2f74b5">OH</text>
<text x="362.2" y="580.33" font-family='"Liberation Serif", serif' font-size="4.8" font-weight="bold" text-anchor="middle" fill="#2f74b5">12</text>
<text x="382.7" y="516.8" font-family='"Liberation Sans", sans-serif' font-size="4.45" font-weight="normal" text-anchor="middle" fill="#0a0a0a">NH</text>
<text x="389.4" y="523.3" font-family='"Liberation Sans", sans-serif' font-size="4.45" font-weight="normal" text-anchor="middle" fill="#0a0a0a">O</text>
<text x="390.1" y="534" font-family='"Liberation Sans", sans-serif' font-size="4.45" font-weight="normal" text-anchor="middle" fill="#0a0a0a">O</text>
<text x="398.6" y="538.9" font-family='"Liberation Sans", sans-serif' font-size="4.45" font-weight="bold" text-anchor="middle" fill="#de7c28">O</text>
<text x="381.8" y="594.53" font-family='"Liberation Serif", serif' font-size="4.8" font-weight="normal" text-anchor="middle" fill="#0a0a0a">14</text>
<text x="391.2" y="600.23" font-family='"Liberation Serif", serif' font-size="4.8" font-weight="bold" text-anchor="middle" fill="#de7c28">12</text>
<text x="447.5" y="490.6" font-family='"Liberation Sans", sans-serif' font-size="4.45" font-weight="normal" text-anchor="middle" fill="#0a0a0a">O</text>
<text x="448.9" y="501.9" font-family='"Liberation Sans", sans-serif' font-size="4.45" font-weight="normal" text-anchor="middle" fill="#0a0a0a">OH</text>
<text x="447.5" y="496.2" font-family='"Liberation Sans", sans-serif' font-size="4.45" font-weight="normal" text-anchor="middle" fill="#0a0a0a">P</text>
<text x="438.5" y="496.2" font-family='"Liberation Sans", sans-serif' font-size="4.45" font-weight="normal" text-anchor="middle" fill="#0a0a0a">OH</text>
<text x="454.3" y="496.2" font-family='"Liberation Sans", sans-serif' font-size="4.45" font-weight="normal" text-anchor="middle" fill="#0a0a0a">O</text>
<text x="475.9" y="497.7" font-family='"Liberation Sans", sans-serif' font-size="4.45" font-weight="normal" text-anchor="middle" fill="#0a0a0a">O</text>
<text x="458.7" y="491.1" font-family='"Liberation Sans", sans-serif' font-size="4.45" font-weight="normal" text-anchor="middle" fill="#0a0a0a">HO</text>
<text x="457.3" y="506.4" font-family='"Liberation Sans", sans-serif' font-size="4.45" font-weight="normal" text-anchor="middle" fill="#0a0a0a">O</text>
<text x="447.5" y="511.5" font-family='"Liberation Sans", sans-serif' font-size="4.45" font-weight="normal" text-anchor="middle" fill="#0a0a0a">O</text>
<text x="447.5" y="522" font-family='"Liberation Sans", sans-serif' font-size="4.45" font-weight="normal" text-anchor="middle" fill="#0a0a0a">O</text>
<text x="438" y="527.5" font-family='"Liberation Sans", sans-serif' font-size="4.45" font-weight="bold" text-anchor="middle" fill="#2e9a3e">O</text>
<text x="445.9" y="600.03" font-family='"Liberation Serif", serif' font-size="4.8" font-weight="bold" text-anchor="middle" fill="#1f8a30">14</text>
<text x="456.2" y="582.53" font-family='"Liberation Serif", serif' font-size="4.8" font-weight="normal" text-anchor="middle" fill="#0a0a0a">14</text>
<text x="476.1" y="509.3" font-family='"Liberation Sans", sans-serif' font-size="4.45" font-weight="normal" text-anchor="middle" fill="#0a0a0a">NH</text>
<text x="466.4" y="514.4" font-family='"Liberation Sans", sans-serif' font-size="4.45" font-weight="normal" text-anchor="middle" fill="#0a0a0a">O</text>
<text x="467.9" y="524.3" font-family='"Liberation Sans", sans-serif' font-size="4.45" font-weight="normal" text-anchor="middle" fill="#0a0a0a">O</text>
<text x="458.5" y="531.1" font-family='"Liberation Sans", sans-serif' font-size="4.45" font-weight="bold" text-anchor="middle" fill="#de7c28">O</text>
<text x="466.4" y="592.33" font-family='"Liberation Serif", serif' font-size="4.8" font-weight="bold" text-anchor="middle" fill="#de7c28">12</text>
<text x="474.1" y="585.13" font-family='"Liberation Serif", serif' font-size="4.8" font-weight="normal" text-anchor="middle" fill="#0a0a0a">14</text>
<text x="495" y="498.8" font-family='"Liberation Sans", sans-serif' font-size="4.45" font-weight="normal" text-anchor="middle" fill="#0a0a0a">O</text>
<text x="520.1" y="506.1" font-family='"Liberation Sans", sans-serif' font-size="4.45" font-weight="normal" text-anchor="middle" fill="#0a0a0a">O</text>
<text x="495.3" y="507.1" font-family='"Liberation Sans", sans-serif' font-size="4.45" font-weight="normal" text-anchor="middle" fill="#0a0a0a">HO</text>
<text x="536" y="505.1" font-family='"Liberation Sans", sans-serif' font-size="4.45" font-weight="normal" text-anchor="middle" fill="#0a0a0a">O</text>
<text x="537.4" y="516.4" font-family='"Liberation Sans", sans-serif' font-size="4.45" font-weight="normal" text-anchor="middle" fill="#0a0a0a">OH</text>
<text x="536" y="510.7" font-family='"Liberation Sans", sans-serif' font-size="4.45" font-weight="normal" text-anchor="middle" fill="#0a0a0a">P</text>
<text x="529.2" y="510.7" font-family='"Liberation Sans", sans-serif' font-size="4.45" font-weight="normal" text-anchor="middle" fill="#0a0a0a">O</text>
<text x="543.6" y="510.7" font-family='"Liberation Sans", sans-serif' font-size="4.45" font-weight="normal" text-anchor="middle" fill="#0a0a0a">OH</text>
<text x="501" y="514.8" font-family='"Liberation Sans", sans-serif' font-size="4.45" font-weight="normal" text-anchor="middle" fill="#0a0a0a">O</text>
<text x="509.3" y="520.9" font-family='"Liberation Sans", sans-serif' font-size="4.45" font-weight="normal" text-anchor="middle" fill="#0a0a0a">O</text>
<text x="511.3" y="530.96" font-family='"Liberation Sans", sans-serif' font-size="4.45" font-weight="normal" text-anchor="middle" fill="#0a0a0a">OH</text>
<text x="502.7" y="591.23" font-family='"Liberation Serif", serif' font-size="4.8" font-weight="normal" text-anchor="middle" fill="#0a0a0a">14</text>
<text x="521" y="517.6" font-family='"Liberation Sans", sans-serif' font-size="4.45" font-weight="normal" text-anchor="middle" fill="#0a0a0a">NH</text>
<text x="529.4" y="523.9" font-family='"Liberation Sans", sans-serif' font-size="4.45" font-weight="normal" text-anchor="middle" fill="#0a0a0a">O</text>
<text x="529" y="534.5" font-family='"Liberation Sans", sans-serif' font-size="4.45" font-weight="normal" text-anchor="middle" fill="#0a0a0a">O</text>
<text x="537.9" y="539.2" font-family='"Liberation Sans", sans-serif' font-size="4.45" font-weight="bold" text-anchor="middle" fill="#cf3a3a">O</text>
<text x="521.2" y="594.53" font-family='"Liberation Serif", serif' font-size="4.8" font-weight="normal" text-anchor="middle" fill="#0a0a0a">14</text>
<text x="530.4" y="620.73" font-family='"Liberation Serif", serif' font-size="4.8" font-weight="bold" text-anchor="middle" fill="#cf3a3a">16</text>
</g>
<text x="12" y="631.3" font-family='"Liberation Sans", sans-serif' font-size="10" textLength="87" lengthAdjust="spacing" fill="#111"><tspan font-style="italic">Bordetella pertussis</tspan></text>
<text x="171" y="631.3" font-family='"Liberation Sans", sans-serif' font-size="10" textLength="77.5" lengthAdjust="spacing" fill="#111"><tspan font-style="italic">Ralstonia pickettii</tspan></text>
<text x="309" y="631.3" font-family='"Liberation Sans", sans-serif' font-size="10" textLength="97" lengthAdjust="spacing" fill="#111"><tspan font-style="italic">Neisseria meningitidis</tspan></text>
<text x="439" y="631.3" font-family='"Liberation Sans", sans-serif' font-size="10" textLength="108.5" lengthAdjust="spacing" fill="#111"><tspan font-style="italic">Salmonella</tspan> Typhimurium</text>
</svg>
</body></html>
